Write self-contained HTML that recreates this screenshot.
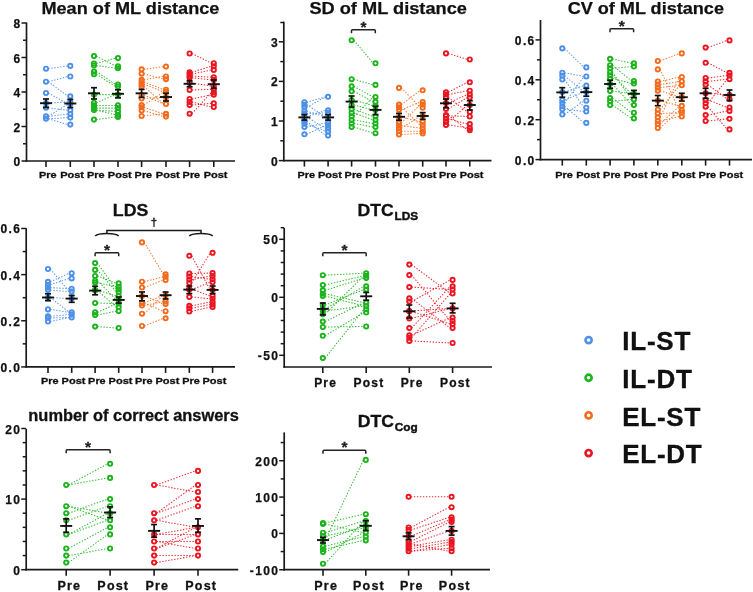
<!DOCTYPE html>
<html><head><meta charset="utf-8"><style>html,body{margin:0;padding:0;background:#fff;width:753px;height:592px;overflow:hidden;position:relative}</style></head><body>
<svg width="753" height="592" viewBox="0 0 753 592" style="filter:blur(0.3px);position:absolute;left:0;top:0;font-family:'Liberation Sans', sans-serif">
<rect width="753" height="592" fill="#fff"/>
<text x="130.45" y="13.60" font-size="17.2" font-weight="bold" text-anchor="middle" fill="#111" stroke="#111" stroke-width="0.25" textLength="178.00" lengthAdjust="spacingAndGlyphs" >Mean of ML distance</text>
<line x1="26.50" y1="22.50" x2="26.50" y2="161.80" stroke="#1a1a1a" stroke-width="1.7" />
<line x1="25.70" y1="161.00" x2="235.00" y2="161.00" stroke="#1a1a1a" stroke-width="1.7" />
<line x1="21.50" y1="23.00" x2="26.50" y2="23.00" stroke="#1a1a1a" stroke-width="1.5" />
<text x="20.30" y="28.00" font-size="12" font-weight="bold" text-anchor="end" fill="#111" stroke="#111" stroke-width="0.25" textLength="6.67" lengthAdjust="spacing" >8</text>
<line x1="21.50" y1="57.50" x2="26.50" y2="57.50" stroke="#1a1a1a" stroke-width="1.5" />
<text x="20.30" y="62.50" font-size="12" font-weight="bold" text-anchor="end" fill="#111" stroke="#111" stroke-width="0.25" textLength="6.67" lengthAdjust="spacing" >6</text>
<line x1="21.50" y1="92.00" x2="26.50" y2="92.00" stroke="#1a1a1a" stroke-width="1.5" />
<text x="20.30" y="97.00" font-size="12" font-weight="bold" text-anchor="end" fill="#111" stroke="#111" stroke-width="0.25" textLength="6.67" lengthAdjust="spacing" >4</text>
<line x1="21.50" y1="126.50" x2="26.50" y2="126.50" stroke="#1a1a1a" stroke-width="1.5" />
<text x="20.30" y="131.50" font-size="12" font-weight="bold" text-anchor="end" fill="#111" stroke="#111" stroke-width="0.25" textLength="6.67" lengthAdjust="spacing" >2</text>
<line x1="21.50" y1="161.00" x2="26.50" y2="161.00" stroke="#1a1a1a" stroke-width="1.5" />
<text x="20.30" y="166.00" font-size="12" font-weight="bold" text-anchor="end" fill="#111" stroke="#111" stroke-width="0.25" textLength="6.67" lengthAdjust="spacing" >0</text>
<line x1="23.00" y1="40.25" x2="26.50" y2="40.25" stroke="#1a1a1a" stroke-width="1.5" />
<line x1="23.00" y1="74.75" x2="26.50" y2="74.75" stroke="#1a1a1a" stroke-width="1.5" />
<line x1="23.00" y1="109.25" x2="26.50" y2="109.25" stroke="#1a1a1a" stroke-width="1.5" />
<line x1="23.00" y1="143.75" x2="26.50" y2="143.75" stroke="#1a1a1a" stroke-width="1.5" />
<line x1="46.00" y1="161.00" x2="46.00" y2="167.00" stroke="#1a1a1a" stroke-width="1.6" />
<text x="47.80" y="177.80" font-size="9.7" font-weight="bold" text-anchor="middle" fill="#111" stroke="#111" stroke-width="0.3" textLength="17.54" lengthAdjust="spacingAndGlyphs" >Pre</text>
<line x1="70.30" y1="161.00" x2="70.30" y2="167.00" stroke="#1a1a1a" stroke-width="1.6" />
<text x="72.10" y="177.80" font-size="9.7" font-weight="bold" text-anchor="middle" fill="#111" stroke="#111" stroke-width="0.3" textLength="23.87" lengthAdjust="spacingAndGlyphs" >Post</text>
<line x1="94.00" y1="161.00" x2="94.00" y2="167.00" stroke="#1a1a1a" stroke-width="1.6" />
<text x="95.80" y="177.80" font-size="9.7" font-weight="bold" text-anchor="middle" fill="#111" stroke="#111" stroke-width="0.3" textLength="17.54" lengthAdjust="spacingAndGlyphs" >Pre</text>
<line x1="118.00" y1="161.00" x2="118.00" y2="167.00" stroke="#1a1a1a" stroke-width="1.6" />
<text x="119.80" y="177.80" font-size="9.7" font-weight="bold" text-anchor="middle" fill="#111" stroke="#111" stroke-width="0.3" textLength="23.87" lengthAdjust="spacingAndGlyphs" >Post</text>
<line x1="141.60" y1="161.00" x2="141.60" y2="167.00" stroke="#1a1a1a" stroke-width="1.6" />
<text x="143.40" y="177.80" font-size="9.7" font-weight="bold" text-anchor="middle" fill="#111" stroke="#111" stroke-width="0.3" textLength="17.54" lengthAdjust="spacingAndGlyphs" >Pre</text>
<line x1="166.00" y1="161.00" x2="166.00" y2="167.00" stroke="#1a1a1a" stroke-width="1.6" />
<text x="167.80" y="177.80" font-size="9.7" font-weight="bold" text-anchor="middle" fill="#111" stroke="#111" stroke-width="0.3" textLength="23.87" lengthAdjust="spacingAndGlyphs" >Post</text>
<line x1="189.60" y1="161.00" x2="189.60" y2="167.00" stroke="#1a1a1a" stroke-width="1.6" />
<text x="191.40" y="177.80" font-size="9.7" font-weight="bold" text-anchor="middle" fill="#111" stroke="#111" stroke-width="0.3" textLength="17.54" lengthAdjust="spacingAndGlyphs" >Pre</text>
<line x1="213.80" y1="161.00" x2="213.80" y2="167.00" stroke="#1a1a1a" stroke-width="1.6" />
<text x="215.60" y="177.80" font-size="9.7" font-weight="bold" text-anchor="middle" fill="#111" stroke="#111" stroke-width="0.3" textLength="23.87" lengthAdjust="spacingAndGlyphs" >Post</text>
<line x1="48.30" y1="68.70" x2="68.00" y2="65.90" stroke="#4d90e8" stroke-width="1.05" stroke-dasharray="1.4 1.6" opacity="0.9"/>
<line x1="48.30" y1="81.70" x2="68.00" y2="76.50" stroke="#4d90e8" stroke-width="1.05" stroke-dasharray="1.4 1.6" opacity="0.9"/>
<line x1="48.30" y1="81.70" x2="68.00" y2="96.30" stroke="#4d90e8" stroke-width="1.05" stroke-dasharray="1.4 1.6" opacity="0.9"/>
<line x1="48.30" y1="93.00" x2="68.00" y2="104.00" stroke="#4d90e8" stroke-width="1.05" stroke-dasharray="1.4 1.6" opacity="0.9"/>
<line x1="48.30" y1="103.00" x2="68.00" y2="102.00" stroke="#4d90e8" stroke-width="1.05" stroke-dasharray="1.4 1.6" opacity="0.9"/>
<line x1="48.30" y1="107.80" x2="68.00" y2="110.30" stroke="#4d90e8" stroke-width="1.05" stroke-dasharray="1.4 1.6" opacity="0.9"/>
<line x1="48.30" y1="116.40" x2="68.00" y2="104.00" stroke="#4d90e8" stroke-width="1.05" stroke-dasharray="1.4 1.6" opacity="0.9"/>
<line x1="48.30" y1="116.40" x2="68.00" y2="114.00" stroke="#4d90e8" stroke-width="1.05" stroke-dasharray="1.4 1.6" opacity="0.9"/>
<line x1="48.30" y1="118.80" x2="68.00" y2="117.60" stroke="#4d90e8" stroke-width="1.05" stroke-dasharray="1.4 1.6" opacity="0.9"/>
<line x1="48.30" y1="118.80" x2="68.00" y2="124.60" stroke="#4d90e8" stroke-width="1.05" stroke-dasharray="1.4 1.6" opacity="0.9"/>
<circle cx="46.00" cy="68.70" r="2.1" fill="none" stroke="#4d90e8" stroke-width="1.9"/>
<circle cx="46.00" cy="81.70" r="2.1" fill="none" stroke="#4d90e8" stroke-width="1.9"/>
<circle cx="46.00" cy="93.00" r="2.1" fill="none" stroke="#4d90e8" stroke-width="1.9"/>
<circle cx="46.00" cy="103.00" r="2.1" fill="none" stroke="#4d90e8" stroke-width="1.9"/>
<circle cx="46.00" cy="107.80" r="2.1" fill="none" stroke="#4d90e8" stroke-width="1.9"/>
<circle cx="46.00" cy="116.40" r="2.1" fill="none" stroke="#4d90e8" stroke-width="1.9"/>
<circle cx="46.00" cy="118.80" r="2.1" fill="none" stroke="#4d90e8" stroke-width="1.9"/>
<circle cx="70.30" cy="65.90" r="2.1" fill="none" stroke="#4d90e8" stroke-width="1.9"/>
<circle cx="70.30" cy="76.50" r="2.1" fill="none" stroke="#4d90e8" stroke-width="1.9"/>
<circle cx="70.30" cy="96.30" r="2.1" fill="none" stroke="#4d90e8" stroke-width="1.9"/>
<circle cx="70.30" cy="102.00" r="2.1" fill="none" stroke="#4d90e8" stroke-width="1.9"/>
<circle cx="70.30" cy="104.00" r="2.1" fill="none" stroke="#4d90e8" stroke-width="1.9"/>
<circle cx="70.30" cy="110.30" r="2.1" fill="none" stroke="#4d90e8" stroke-width="1.9"/>
<circle cx="70.30" cy="114.00" r="2.1" fill="none" stroke="#4d90e8" stroke-width="1.9"/>
<circle cx="70.30" cy="117.60" r="2.1" fill="none" stroke="#4d90e8" stroke-width="1.9"/>
<circle cx="70.30" cy="124.60" r="2.1" fill="none" stroke="#4d90e8" stroke-width="1.9"/>
<line x1="46.00" y1="99.00" x2="46.00" y2="107.50" stroke="#111" stroke-width="1.7" />
<line x1="43.00" y1="99.00" x2="49.00" y2="99.00" stroke="#111" stroke-width="1.7" />
<line x1="43.00" y1="107.50" x2="49.00" y2="107.50" stroke="#111" stroke-width="1.7" />
<line x1="40.00" y1="103.20" x2="52.00" y2="103.20" stroke="#111" stroke-width="1.9" />
<line x1="70.30" y1="99.40" x2="70.30" y2="107.50" stroke="#111" stroke-width="1.7" />
<line x1="67.30" y1="99.40" x2="73.30" y2="99.40" stroke="#111" stroke-width="1.7" />
<line x1="67.30" y1="107.50" x2="73.30" y2="107.50" stroke="#111" stroke-width="1.7" />
<line x1="64.30" y1="103.50" x2="76.30" y2="103.50" stroke="#111" stroke-width="1.9" />
<line x1="96.30" y1="56.10" x2="115.70" y2="66.20" stroke="#1cb41c" stroke-width="1.05" stroke-dasharray="1.4 1.6" opacity="0.9"/>
<line x1="96.30" y1="63.50" x2="115.70" y2="58.10" stroke="#1cb41c" stroke-width="1.05" stroke-dasharray="1.4 1.6" opacity="0.9"/>
<line x1="96.30" y1="65.50" x2="115.70" y2="68.20" stroke="#1cb41c" stroke-width="1.05" stroke-dasharray="1.4 1.6" opacity="0.9"/>
<line x1="96.30" y1="71.60" x2="115.70" y2="84.50" stroke="#1cb41c" stroke-width="1.05" stroke-dasharray="1.4 1.6" opacity="0.9"/>
<line x1="96.30" y1="74.30" x2="115.70" y2="86.50" stroke="#1cb41c" stroke-width="1.05" stroke-dasharray="1.4 1.6" opacity="0.9"/>
<line x1="96.30" y1="94.60" x2="115.70" y2="94.60" stroke="#1cb41c" stroke-width="1.05" stroke-dasharray="1.4 1.6" opacity="0.9"/>
<line x1="96.30" y1="102.70" x2="115.70" y2="94.60" stroke="#1cb41c" stroke-width="1.05" stroke-dasharray="1.4 1.6" opacity="0.9"/>
<line x1="96.30" y1="105.40" x2="115.70" y2="105.40" stroke="#1cb41c" stroke-width="1.05" stroke-dasharray="1.4 1.6" opacity="0.9"/>
<line x1="96.30" y1="108.10" x2="115.70" y2="108.10" stroke="#1cb41c" stroke-width="1.05" stroke-dasharray="1.4 1.6" opacity="0.9"/>
<line x1="96.30" y1="110.10" x2="115.70" y2="111.50" stroke="#1cb41c" stroke-width="1.05" stroke-dasharray="1.4 1.6" opacity="0.9"/>
<line x1="96.30" y1="110.10" x2="115.70" y2="114.90" stroke="#1cb41c" stroke-width="1.05" stroke-dasharray="1.4 1.6" opacity="0.9"/>
<line x1="96.30" y1="119.60" x2="115.70" y2="116.90" stroke="#1cb41c" stroke-width="1.05" stroke-dasharray="1.4 1.6" opacity="0.9"/>
<circle cx="94.00" cy="56.10" r="2.1" fill="none" stroke="#1cb41c" stroke-width="1.9"/>
<circle cx="94.00" cy="63.50" r="2.1" fill="none" stroke="#1cb41c" stroke-width="1.9"/>
<circle cx="94.00" cy="65.50" r="2.1" fill="none" stroke="#1cb41c" stroke-width="1.9"/>
<circle cx="94.00" cy="71.60" r="2.1" fill="none" stroke="#1cb41c" stroke-width="1.9"/>
<circle cx="94.00" cy="74.30" r="2.1" fill="none" stroke="#1cb41c" stroke-width="1.9"/>
<circle cx="94.00" cy="94.60" r="2.1" fill="none" stroke="#1cb41c" stroke-width="1.9"/>
<circle cx="94.00" cy="102.70" r="2.1" fill="none" stroke="#1cb41c" stroke-width="1.9"/>
<circle cx="94.00" cy="105.40" r="2.1" fill="none" stroke="#1cb41c" stroke-width="1.9"/>
<circle cx="94.00" cy="108.10" r="2.1" fill="none" stroke="#1cb41c" stroke-width="1.9"/>
<circle cx="94.00" cy="110.10" r="2.1" fill="none" stroke="#1cb41c" stroke-width="1.9"/>
<circle cx="94.00" cy="119.60" r="2.1" fill="none" stroke="#1cb41c" stroke-width="1.9"/>
<circle cx="118.00" cy="58.10" r="2.1" fill="none" stroke="#1cb41c" stroke-width="1.9"/>
<circle cx="118.00" cy="66.20" r="2.1" fill="none" stroke="#1cb41c" stroke-width="1.9"/>
<circle cx="118.00" cy="68.20" r="2.1" fill="none" stroke="#1cb41c" stroke-width="1.9"/>
<circle cx="118.00" cy="84.50" r="2.1" fill="none" stroke="#1cb41c" stroke-width="1.9"/>
<circle cx="118.00" cy="86.50" r="2.1" fill="none" stroke="#1cb41c" stroke-width="1.9"/>
<circle cx="118.00" cy="94.60" r="2.1" fill="none" stroke="#1cb41c" stroke-width="1.9"/>
<circle cx="118.00" cy="105.40" r="2.1" fill="none" stroke="#1cb41c" stroke-width="1.9"/>
<circle cx="118.00" cy="108.10" r="2.1" fill="none" stroke="#1cb41c" stroke-width="1.9"/>
<circle cx="118.00" cy="111.50" r="2.1" fill="none" stroke="#1cb41c" stroke-width="1.9"/>
<circle cx="118.00" cy="114.90" r="2.1" fill="none" stroke="#1cb41c" stroke-width="1.9"/>
<circle cx="118.00" cy="116.90" r="2.1" fill="none" stroke="#1cb41c" stroke-width="1.9"/>
<line x1="94.00" y1="87.70" x2="94.00" y2="99.00" stroke="#111" stroke-width="1.7" />
<line x1="91.00" y1="87.70" x2="97.00" y2="87.70" stroke="#111" stroke-width="1.7" />
<line x1="91.00" y1="99.00" x2="97.00" y2="99.00" stroke="#111" stroke-width="1.7" />
<line x1="88.00" y1="93.30" x2="100.00" y2="93.30" stroke="#111" stroke-width="1.9" />
<line x1="118.00" y1="89.80" x2="118.00" y2="97.90" stroke="#111" stroke-width="1.7" />
<line x1="115.00" y1="89.80" x2="121.00" y2="89.80" stroke="#111" stroke-width="1.7" />
<line x1="115.00" y1="97.90" x2="121.00" y2="97.90" stroke="#111" stroke-width="1.7" />
<line x1="112.00" y1="93.80" x2="124.00" y2="93.80" stroke="#111" stroke-width="1.9" />
<line x1="143.90" y1="69.30" x2="163.70" y2="66.60" stroke="#f26b1d" stroke-width="1.05" stroke-dasharray="1.4 1.6" opacity="0.9"/>
<line x1="143.90" y1="73.70" x2="163.70" y2="79.20" stroke="#f26b1d" stroke-width="1.05" stroke-dasharray="1.4 1.6" opacity="0.9"/>
<line x1="143.90" y1="79.80" x2="163.70" y2="76.50" stroke="#f26b1d" stroke-width="1.05" stroke-dasharray="1.4 1.6" opacity="0.9"/>
<line x1="143.90" y1="82.00" x2="163.70" y2="89.70" stroke="#f26b1d" stroke-width="1.05" stroke-dasharray="1.4 1.6" opacity="0.9"/>
<line x1="143.90" y1="84.20" x2="163.70" y2="91.90" stroke="#f26b1d" stroke-width="1.05" stroke-dasharray="1.4 1.6" opacity="0.9"/>
<line x1="143.90" y1="86.40" x2="163.70" y2="104.00" stroke="#f26b1d" stroke-width="1.05" stroke-dasharray="1.4 1.6" opacity="0.9"/>
<line x1="143.90" y1="98.50" x2="163.70" y2="97.40" stroke="#f26b1d" stroke-width="1.05" stroke-dasharray="1.4 1.6" opacity="0.9"/>
<line x1="143.90" y1="105.00" x2="163.70" y2="91.90" stroke="#f26b1d" stroke-width="1.05" stroke-dasharray="1.4 1.6" opacity="0.9"/>
<line x1="143.90" y1="107.30" x2="163.70" y2="113.80" stroke="#f26b1d" stroke-width="1.05" stroke-dasharray="1.4 1.6" opacity="0.9"/>
<line x1="143.90" y1="110.50" x2="163.70" y2="116.60" stroke="#f26b1d" stroke-width="1.05" stroke-dasharray="1.4 1.6" opacity="0.9"/>
<line x1="143.90" y1="116.00" x2="163.70" y2="113.80" stroke="#f26b1d" stroke-width="1.05" stroke-dasharray="1.4 1.6" opacity="0.9"/>
<line x1="143.90" y1="95.00" x2="163.70" y2="104.00" stroke="#f26b1d" stroke-width="1.05" stroke-dasharray="1.4 1.6" opacity="0.9"/>
<circle cx="141.60" cy="69.30" r="2.1" fill="none" stroke="#f26b1d" stroke-width="1.9"/>
<circle cx="141.60" cy="73.70" r="2.1" fill="none" stroke="#f26b1d" stroke-width="1.9"/>
<circle cx="141.60" cy="79.80" r="2.1" fill="none" stroke="#f26b1d" stroke-width="1.9"/>
<circle cx="141.60" cy="82.00" r="2.1" fill="none" stroke="#f26b1d" stroke-width="1.9"/>
<circle cx="141.60" cy="84.20" r="2.1" fill="none" stroke="#f26b1d" stroke-width="1.9"/>
<circle cx="141.60" cy="86.40" r="2.1" fill="none" stroke="#f26b1d" stroke-width="1.9"/>
<circle cx="141.60" cy="95.00" r="2.1" fill="none" stroke="#f26b1d" stroke-width="1.9"/>
<circle cx="141.60" cy="98.50" r="2.1" fill="none" stroke="#f26b1d" stroke-width="1.9"/>
<circle cx="141.60" cy="105.00" r="2.1" fill="none" stroke="#f26b1d" stroke-width="1.9"/>
<circle cx="141.60" cy="107.30" r="2.1" fill="none" stroke="#f26b1d" stroke-width="1.9"/>
<circle cx="141.60" cy="110.50" r="2.1" fill="none" stroke="#f26b1d" stroke-width="1.9"/>
<circle cx="141.60" cy="116.00" r="2.1" fill="none" stroke="#f26b1d" stroke-width="1.9"/>
<circle cx="166.00" cy="66.60" r="2.1" fill="none" stroke="#f26b1d" stroke-width="1.9"/>
<circle cx="166.00" cy="76.50" r="2.1" fill="none" stroke="#f26b1d" stroke-width="1.9"/>
<circle cx="166.00" cy="79.20" r="2.1" fill="none" stroke="#f26b1d" stroke-width="1.9"/>
<circle cx="166.00" cy="89.70" r="2.1" fill="none" stroke="#f26b1d" stroke-width="1.9"/>
<circle cx="166.00" cy="91.90" r="2.1" fill="none" stroke="#f26b1d" stroke-width="1.9"/>
<circle cx="166.00" cy="97.40" r="2.1" fill="none" stroke="#f26b1d" stroke-width="1.9"/>
<circle cx="166.00" cy="104.00" r="2.1" fill="none" stroke="#f26b1d" stroke-width="1.9"/>
<circle cx="166.00" cy="113.80" r="2.1" fill="none" stroke="#f26b1d" stroke-width="1.9"/>
<circle cx="166.00" cy="116.60" r="2.1" fill="none" stroke="#f26b1d" stroke-width="1.9"/>
<line x1="141.60" y1="89.40" x2="141.60" y2="97.40" stroke="#111" stroke-width="1.7" />
<line x1="138.60" y1="89.40" x2="144.60" y2="89.40" stroke="#111" stroke-width="1.7" />
<line x1="138.60" y1="97.40" x2="144.60" y2="97.40" stroke="#111" stroke-width="1.7" />
<line x1="135.60" y1="93.30" x2="147.60" y2="93.30" stroke="#111" stroke-width="1.9" />
<line x1="166.00" y1="93.30" x2="166.00" y2="101.00" stroke="#111" stroke-width="1.7" />
<line x1="163.00" y1="93.30" x2="169.00" y2="93.30" stroke="#111" stroke-width="1.7" />
<line x1="163.00" y1="101.00" x2="169.00" y2="101.00" stroke="#111" stroke-width="1.7" />
<line x1="160.00" y1="97.00" x2="172.00" y2="97.00" stroke="#111" stroke-width="1.9" />
<line x1="191.90" y1="53.50" x2="211.50" y2="63.20" stroke="#ea1520" stroke-width="1.05" stroke-dasharray="1.4 1.6" opacity="0.9"/>
<line x1="191.90" y1="72.30" x2="211.50" y2="66.20" stroke="#ea1520" stroke-width="1.05" stroke-dasharray="1.4 1.6" opacity="0.9"/>
<line x1="191.90" y1="74.10" x2="211.50" y2="69.90" stroke="#ea1520" stroke-width="1.05" stroke-dasharray="1.4 1.6" opacity="0.9"/>
<line x1="191.90" y1="76.00" x2="211.50" y2="77.20" stroke="#ea1520" stroke-width="1.05" stroke-dasharray="1.4 1.6" opacity="0.9"/>
<line x1="191.90" y1="77.80" x2="211.50" y2="79.90" stroke="#ea1520" stroke-width="1.05" stroke-dasharray="1.4 1.6" opacity="0.9"/>
<line x1="191.90" y1="83.00" x2="211.50" y2="86.00" stroke="#ea1520" stroke-width="1.05" stroke-dasharray="1.4 1.6" opacity="0.9"/>
<line x1="191.90" y1="90.00" x2="211.50" y2="89.30" stroke="#ea1520" stroke-width="1.05" stroke-dasharray="1.4 1.6" opacity="0.9"/>
<line x1="191.90" y1="99.00" x2="211.50" y2="94.80" stroke="#ea1520" stroke-width="1.05" stroke-dasharray="1.4 1.6" opacity="0.9"/>
<line x1="191.90" y1="102.00" x2="211.50" y2="107.00" stroke="#ea1520" stroke-width="1.05" stroke-dasharray="1.4 1.6" opacity="0.9"/>
<line x1="191.90" y1="105.10" x2="211.50" y2="103.30" stroke="#ea1520" stroke-width="1.05" stroke-dasharray="1.4 1.6" opacity="0.9"/>
<line x1="191.90" y1="113.70" x2="211.50" y2="92.40" stroke="#ea1520" stroke-width="1.05" stroke-dasharray="1.4 1.6" opacity="0.9"/>
<circle cx="189.60" cy="53.50" r="2.1" fill="none" stroke="#ea1520" stroke-width="1.9"/>
<circle cx="189.60" cy="72.30" r="2.1" fill="none" stroke="#ea1520" stroke-width="1.9"/>
<circle cx="189.60" cy="74.10" r="2.1" fill="none" stroke="#ea1520" stroke-width="1.9"/>
<circle cx="189.60" cy="76.00" r="2.1" fill="none" stroke="#ea1520" stroke-width="1.9"/>
<circle cx="189.60" cy="77.80" r="2.1" fill="none" stroke="#ea1520" stroke-width="1.9"/>
<circle cx="189.60" cy="83.00" r="2.1" fill="none" stroke="#ea1520" stroke-width="1.9"/>
<circle cx="189.60" cy="90.00" r="2.1" fill="none" stroke="#ea1520" stroke-width="1.9"/>
<circle cx="189.60" cy="99.00" r="2.1" fill="none" stroke="#ea1520" stroke-width="1.9"/>
<circle cx="189.60" cy="102.00" r="2.1" fill="none" stroke="#ea1520" stroke-width="1.9"/>
<circle cx="189.60" cy="105.10" r="2.1" fill="none" stroke="#ea1520" stroke-width="1.9"/>
<circle cx="189.60" cy="113.70" r="2.1" fill="none" stroke="#ea1520" stroke-width="1.9"/>
<circle cx="213.80" cy="63.20" r="2.1" fill="none" stroke="#ea1520" stroke-width="1.9"/>
<circle cx="213.80" cy="66.20" r="2.1" fill="none" stroke="#ea1520" stroke-width="1.9"/>
<circle cx="213.80" cy="69.90" r="2.1" fill="none" stroke="#ea1520" stroke-width="1.9"/>
<circle cx="213.80" cy="77.20" r="2.1" fill="none" stroke="#ea1520" stroke-width="1.9"/>
<circle cx="213.80" cy="79.90" r="2.1" fill="none" stroke="#ea1520" stroke-width="1.9"/>
<circle cx="213.80" cy="86.00" r="2.1" fill="none" stroke="#ea1520" stroke-width="1.9"/>
<circle cx="213.80" cy="89.30" r="2.1" fill="none" stroke="#ea1520" stroke-width="1.9"/>
<circle cx="213.80" cy="92.40" r="2.1" fill="none" stroke="#ea1520" stroke-width="1.9"/>
<circle cx="213.80" cy="94.80" r="2.1" fill="none" stroke="#ea1520" stroke-width="1.9"/>
<circle cx="213.80" cy="103.30" r="2.1" fill="none" stroke="#ea1520" stroke-width="1.9"/>
<circle cx="213.80" cy="107.00" r="2.1" fill="none" stroke="#ea1520" stroke-width="1.9"/>
<line x1="189.60" y1="80.70" x2="189.60" y2="86.80" stroke="#111" stroke-width="1.7" />
<line x1="186.60" y1="80.70" x2="192.60" y2="80.70" stroke="#111" stroke-width="1.7" />
<line x1="186.60" y1="86.80" x2="192.60" y2="86.80" stroke="#111" stroke-width="1.7" />
<line x1="183.60" y1="83.80" x2="195.60" y2="83.80" stroke="#111" stroke-width="1.9" />
<line x1="213.80" y1="80.00" x2="213.80" y2="88.30" stroke="#111" stroke-width="1.7" />
<line x1="210.80" y1="80.00" x2="216.80" y2="80.00" stroke="#111" stroke-width="1.7" />
<line x1="210.80" y1="88.30" x2="216.80" y2="88.30" stroke="#111" stroke-width="1.7" />
<line x1="207.80" y1="84.20" x2="219.80" y2="84.20" stroke="#111" stroke-width="1.9" />
<text x="388.15" y="13.60" font-size="17.2" font-weight="bold" text-anchor="middle" fill="#111" stroke="#111" stroke-width="0.25" textLength="157.50" lengthAdjust="spacingAndGlyphs" >SD of ML distance</text>
<line x1="283.80" y1="21.60" x2="283.80" y2="161.40" stroke="#1a1a1a" stroke-width="1.7" />
<line x1="283.00" y1="160.60" x2="491.50" y2="160.60" stroke="#1a1a1a" stroke-width="1.7" />
<line x1="278.80" y1="41.80" x2="283.80" y2="41.80" stroke="#1a1a1a" stroke-width="1.5" />
<text x="277.60" y="46.80" font-size="12" font-weight="bold" text-anchor="end" fill="#111" stroke="#111" stroke-width="0.25" textLength="6.67" lengthAdjust="spacing" >3</text>
<line x1="278.80" y1="81.40" x2="283.80" y2="81.40" stroke="#1a1a1a" stroke-width="1.5" />
<text x="277.60" y="86.40" font-size="12" font-weight="bold" text-anchor="end" fill="#111" stroke="#111" stroke-width="0.25" textLength="6.67" lengthAdjust="spacing" >2</text>
<line x1="278.80" y1="121.00" x2="283.80" y2="121.00" stroke="#1a1a1a" stroke-width="1.5" />
<text x="277.60" y="126.00" font-size="12" font-weight="bold" text-anchor="end" fill="#111" stroke="#111" stroke-width="0.25" textLength="6.67" lengthAdjust="spacing" >1</text>
<line x1="278.80" y1="160.60" x2="283.80" y2="160.60" stroke="#1a1a1a" stroke-width="1.5" />
<text x="277.60" y="165.60" font-size="12" font-weight="bold" text-anchor="end" fill="#111" stroke="#111" stroke-width="0.25" textLength="6.67" lengthAdjust="spacing" >0</text>
<line x1="280.30" y1="22.50" x2="283.80" y2="22.50" stroke="#1a1a1a" stroke-width="1.5" />
<line x1="280.30" y1="61.60" x2="283.80" y2="61.60" stroke="#1a1a1a" stroke-width="1.5" />
<line x1="280.30" y1="101.20" x2="283.80" y2="101.20" stroke="#1a1a1a" stroke-width="1.5" />
<line x1="280.30" y1="140.80" x2="283.80" y2="140.80" stroke="#1a1a1a" stroke-width="1.5" />
<line x1="304.40" y1="160.60" x2="304.40" y2="166.60" stroke="#1a1a1a" stroke-width="1.6" />
<text x="306.20" y="177.80" font-size="9.7" font-weight="bold" text-anchor="middle" fill="#111" stroke="#111" stroke-width="0.3" textLength="17.54" lengthAdjust="spacingAndGlyphs" >Pre</text>
<line x1="328.10" y1="160.60" x2="328.10" y2="166.60" stroke="#1a1a1a" stroke-width="1.6" />
<text x="329.90" y="177.80" font-size="9.7" font-weight="bold" text-anchor="middle" fill="#111" stroke="#111" stroke-width="0.3" textLength="23.87" lengthAdjust="spacingAndGlyphs" >Post</text>
<line x1="351.60" y1="160.60" x2="351.60" y2="166.60" stroke="#1a1a1a" stroke-width="1.6" />
<text x="353.40" y="177.80" font-size="9.7" font-weight="bold" text-anchor="middle" fill="#111" stroke="#111" stroke-width="0.3" textLength="17.54" lengthAdjust="spacingAndGlyphs" >Pre</text>
<line x1="375.50" y1="160.60" x2="375.50" y2="166.60" stroke="#1a1a1a" stroke-width="1.6" />
<text x="377.30" y="177.80" font-size="9.7" font-weight="bold" text-anchor="middle" fill="#111" stroke="#111" stroke-width="0.3" textLength="23.87" lengthAdjust="spacingAndGlyphs" >Post</text>
<line x1="399.00" y1="160.60" x2="399.00" y2="166.60" stroke="#1a1a1a" stroke-width="1.6" />
<text x="400.80" y="177.80" font-size="9.7" font-weight="bold" text-anchor="middle" fill="#111" stroke="#111" stroke-width="0.3" textLength="17.54" lengthAdjust="spacingAndGlyphs" >Pre</text>
<line x1="422.70" y1="160.60" x2="422.70" y2="166.60" stroke="#1a1a1a" stroke-width="1.6" />
<text x="424.50" y="177.80" font-size="9.7" font-weight="bold" text-anchor="middle" fill="#111" stroke="#111" stroke-width="0.3" textLength="23.87" lengthAdjust="spacingAndGlyphs" >Post</text>
<line x1="446.00" y1="160.60" x2="446.00" y2="166.60" stroke="#1a1a1a" stroke-width="1.6" />
<text x="447.80" y="177.80" font-size="9.7" font-weight="bold" text-anchor="middle" fill="#111" stroke="#111" stroke-width="0.3" textLength="17.54" lengthAdjust="spacingAndGlyphs" >Pre</text>
<line x1="469.80" y1="160.60" x2="469.80" y2="166.60" stroke="#1a1a1a" stroke-width="1.6" />
<text x="471.60" y="177.80" font-size="9.7" font-weight="bold" text-anchor="middle" fill="#111" stroke="#111" stroke-width="0.3" textLength="23.87" lengthAdjust="spacingAndGlyphs" >Post</text>
<path d="M351.50,33.30 V30.80 Q351.50,29.80 352.50,29.80 H374.30 Q375.30,29.80 375.30,30.80 V33.30" fill="none" stroke="#222" stroke-width="1.5"/>
<text x="363.40" y="32.00" font-size="15.5" font-weight="bold" text-anchor="middle" fill="#222" stroke="#222" stroke-width="0.3" >*</text>
<line x1="306.70" y1="102.20" x2="325.80" y2="96.80" stroke="#4d90e8" stroke-width="1.05" stroke-dasharray="1.4 1.6" opacity="0.9"/>
<line x1="306.70" y1="107.30" x2="325.80" y2="96.80" stroke="#4d90e8" stroke-width="1.05" stroke-dasharray="1.4 1.6" opacity="0.9"/>
<line x1="306.70" y1="104.80" x2="325.80" y2="117.00" stroke="#4d90e8" stroke-width="1.05" stroke-dasharray="1.4 1.6" opacity="0.9"/>
<line x1="306.70" y1="111.10" x2="325.80" y2="117.00" stroke="#4d90e8" stroke-width="1.05" stroke-dasharray="1.4 1.6" opacity="0.9"/>
<line x1="306.70" y1="113.60" x2="325.80" y2="112.80" stroke="#4d90e8" stroke-width="1.05" stroke-dasharray="1.4 1.6" opacity="0.9"/>
<line x1="306.70" y1="117.00" x2="325.80" y2="110.30" stroke="#4d90e8" stroke-width="1.05" stroke-dasharray="1.4 1.6" opacity="0.9"/>
<line x1="306.70" y1="121.20" x2="325.80" y2="135.60" stroke="#4d90e8" stroke-width="1.05" stroke-dasharray="1.4 1.6" opacity="0.9"/>
<line x1="306.70" y1="123.80" x2="325.80" y2="131.40" stroke="#4d90e8" stroke-width="1.05" stroke-dasharray="1.4 1.6" opacity="0.9"/>
<line x1="306.70" y1="127.10" x2="325.80" y2="122.90" stroke="#4d90e8" stroke-width="1.05" stroke-dasharray="1.4 1.6" opacity="0.9"/>
<line x1="306.70" y1="134.30" x2="325.80" y2="125.40" stroke="#4d90e8" stroke-width="1.05" stroke-dasharray="1.4 1.6" opacity="0.9"/>
<line x1="306.70" y1="117.00" x2="325.80" y2="128.40" stroke="#4d90e8" stroke-width="1.05" stroke-dasharray="1.4 1.6" opacity="0.9"/>
<circle cx="304.40" cy="102.20" r="2.1" fill="none" stroke="#4d90e8" stroke-width="1.9"/>
<circle cx="304.40" cy="104.80" r="2.1" fill="none" stroke="#4d90e8" stroke-width="1.9"/>
<circle cx="304.40" cy="107.30" r="2.1" fill="none" stroke="#4d90e8" stroke-width="1.9"/>
<circle cx="304.40" cy="111.10" r="2.1" fill="none" stroke="#4d90e8" stroke-width="1.9"/>
<circle cx="304.40" cy="113.60" r="2.1" fill="none" stroke="#4d90e8" stroke-width="1.9"/>
<circle cx="304.40" cy="117.00" r="2.1" fill="none" stroke="#4d90e8" stroke-width="1.9"/>
<circle cx="304.40" cy="121.20" r="2.1" fill="none" stroke="#4d90e8" stroke-width="1.9"/>
<circle cx="304.40" cy="123.80" r="2.1" fill="none" stroke="#4d90e8" stroke-width="1.9"/>
<circle cx="304.40" cy="127.10" r="2.1" fill="none" stroke="#4d90e8" stroke-width="1.9"/>
<circle cx="304.40" cy="134.30" r="2.1" fill="none" stroke="#4d90e8" stroke-width="1.9"/>
<circle cx="328.10" cy="96.80" r="2.1" fill="none" stroke="#4d90e8" stroke-width="1.9"/>
<circle cx="328.10" cy="110.30" r="2.1" fill="none" stroke="#4d90e8" stroke-width="1.9"/>
<circle cx="328.10" cy="112.80" r="2.1" fill="none" stroke="#4d90e8" stroke-width="1.9"/>
<circle cx="328.10" cy="117.00" r="2.1" fill="none" stroke="#4d90e8" stroke-width="1.9"/>
<circle cx="328.10" cy="122.90" r="2.1" fill="none" stroke="#4d90e8" stroke-width="1.9"/>
<circle cx="328.10" cy="125.40" r="2.1" fill="none" stroke="#4d90e8" stroke-width="1.9"/>
<circle cx="328.10" cy="128.40" r="2.1" fill="none" stroke="#4d90e8" stroke-width="1.9"/>
<circle cx="328.10" cy="131.40" r="2.1" fill="none" stroke="#4d90e8" stroke-width="1.9"/>
<circle cx="328.10" cy="135.60" r="2.1" fill="none" stroke="#4d90e8" stroke-width="1.9"/>
<line x1="304.40" y1="114.60" x2="304.40" y2="120.10" stroke="#111" stroke-width="1.7" />
<line x1="301.40" y1="114.60" x2="307.40" y2="114.60" stroke="#111" stroke-width="1.7" />
<line x1="301.40" y1="120.10" x2="307.40" y2="120.10" stroke="#111" stroke-width="1.7" />
<line x1="298.40" y1="117.40" x2="310.40" y2="117.40" stroke="#111" stroke-width="1.9" />
<line x1="328.10" y1="114.60" x2="328.10" y2="120.10" stroke="#111" stroke-width="1.7" />
<line x1="325.10" y1="114.60" x2="331.10" y2="114.60" stroke="#111" stroke-width="1.7" />
<line x1="325.10" y1="120.10" x2="331.10" y2="120.10" stroke="#111" stroke-width="1.7" />
<line x1="322.10" y1="117.40" x2="334.10" y2="117.40" stroke="#111" stroke-width="1.9" />
<line x1="353.90" y1="40.30" x2="373.20" y2="63.30" stroke="#1cb41c" stroke-width="1.05" stroke-dasharray="1.4 1.6" opacity="0.9"/>
<line x1="353.90" y1="79.20" x2="373.20" y2="84.90" stroke="#1cb41c" stroke-width="1.05" stroke-dasharray="1.4 1.6" opacity="0.9"/>
<line x1="353.90" y1="86.30" x2="373.20" y2="97.00" stroke="#1cb41c" stroke-width="1.05" stroke-dasharray="1.4 1.6" opacity="0.9"/>
<line x1="353.90" y1="91.30" x2="373.20" y2="101.90" stroke="#1cb41c" stroke-width="1.05" stroke-dasharray="1.4 1.6" opacity="0.9"/>
<line x1="353.90" y1="100.00" x2="373.20" y2="105.80" stroke="#1cb41c" stroke-width="1.05" stroke-dasharray="1.4 1.6" opacity="0.9"/>
<line x1="353.90" y1="109.30" x2="373.20" y2="116.40" stroke="#1cb41c" stroke-width="1.05" stroke-dasharray="1.4 1.6" opacity="0.9"/>
<line x1="353.90" y1="112.90" x2="373.20" y2="120.00" stroke="#1cb41c" stroke-width="1.05" stroke-dasharray="1.4 1.6" opacity="0.9"/>
<line x1="353.90" y1="116.40" x2="373.20" y2="97.00" stroke="#1cb41c" stroke-width="1.05" stroke-dasharray="1.4 1.6" opacity="0.9"/>
<line x1="353.90" y1="120.00" x2="373.20" y2="123.50" stroke="#1cb41c" stroke-width="1.05" stroke-dasharray="1.4 1.6" opacity="0.9"/>
<line x1="353.90" y1="123.50" x2="373.20" y2="127.00" stroke="#1cb41c" stroke-width="1.05" stroke-dasharray="1.4 1.6" opacity="0.9"/>
<line x1="353.90" y1="127.00" x2="373.20" y2="133.20" stroke="#1cb41c" stroke-width="1.05" stroke-dasharray="1.4 1.6" opacity="0.9"/>
<line x1="353.90" y1="105.00" x2="373.20" y2="110.00" stroke="#1cb41c" stroke-width="1.05" stroke-dasharray="1.4 1.6" opacity="0.9"/>
<circle cx="351.60" cy="40.30" r="2.1" fill="none" stroke="#1cb41c" stroke-width="1.9"/>
<circle cx="351.60" cy="79.20" r="2.1" fill="none" stroke="#1cb41c" stroke-width="1.9"/>
<circle cx="351.60" cy="86.30" r="2.1" fill="none" stroke="#1cb41c" stroke-width="1.9"/>
<circle cx="351.60" cy="91.30" r="2.1" fill="none" stroke="#1cb41c" stroke-width="1.9"/>
<circle cx="351.60" cy="100.00" r="2.1" fill="none" stroke="#1cb41c" stroke-width="1.9"/>
<circle cx="351.60" cy="105.00" r="2.1" fill="none" stroke="#1cb41c" stroke-width="1.9"/>
<circle cx="351.60" cy="109.30" r="2.1" fill="none" stroke="#1cb41c" stroke-width="1.9"/>
<circle cx="351.60" cy="112.90" r="2.1" fill="none" stroke="#1cb41c" stroke-width="1.9"/>
<circle cx="351.60" cy="116.40" r="2.1" fill="none" stroke="#1cb41c" stroke-width="1.9"/>
<circle cx="351.60" cy="120.00" r="2.1" fill="none" stroke="#1cb41c" stroke-width="1.9"/>
<circle cx="351.60" cy="123.50" r="2.1" fill="none" stroke="#1cb41c" stroke-width="1.9"/>
<circle cx="351.60" cy="127.00" r="2.1" fill="none" stroke="#1cb41c" stroke-width="1.9"/>
<circle cx="375.50" cy="63.30" r="2.1" fill="none" stroke="#1cb41c" stroke-width="1.9"/>
<circle cx="375.50" cy="84.90" r="2.1" fill="none" stroke="#1cb41c" stroke-width="1.9"/>
<circle cx="375.50" cy="97.00" r="2.1" fill="none" stroke="#1cb41c" stroke-width="1.9"/>
<circle cx="375.50" cy="101.90" r="2.1" fill="none" stroke="#1cb41c" stroke-width="1.9"/>
<circle cx="375.50" cy="105.80" r="2.1" fill="none" stroke="#1cb41c" stroke-width="1.9"/>
<circle cx="375.50" cy="110.00" r="2.1" fill="none" stroke="#1cb41c" stroke-width="1.9"/>
<circle cx="375.50" cy="116.40" r="2.1" fill="none" stroke="#1cb41c" stroke-width="1.9"/>
<circle cx="375.50" cy="120.00" r="2.1" fill="none" stroke="#1cb41c" stroke-width="1.9"/>
<circle cx="375.50" cy="123.50" r="2.1" fill="none" stroke="#1cb41c" stroke-width="1.9"/>
<circle cx="375.50" cy="127.00" r="2.1" fill="none" stroke="#1cb41c" stroke-width="1.9"/>
<circle cx="375.50" cy="133.20" r="2.1" fill="none" stroke="#1cb41c" stroke-width="1.9"/>
<line x1="351.60" y1="96.00" x2="351.60" y2="107.10" stroke="#111" stroke-width="1.7" />
<line x1="348.60" y1="96.00" x2="354.60" y2="96.00" stroke="#111" stroke-width="1.7" />
<line x1="348.60" y1="107.10" x2="354.60" y2="107.10" stroke="#111" stroke-width="1.7" />
<line x1="345.60" y1="101.60" x2="357.60" y2="101.60" stroke="#111" stroke-width="1.9" />
<line x1="375.50" y1="106.20" x2="375.50" y2="114.60" stroke="#111" stroke-width="1.7" />
<line x1="372.50" y1="106.20" x2="378.50" y2="106.20" stroke="#111" stroke-width="1.7" />
<line x1="372.50" y1="114.60" x2="378.50" y2="114.60" stroke="#111" stroke-width="1.7" />
<line x1="369.50" y1="109.90" x2="381.50" y2="109.90" stroke="#111" stroke-width="1.9" />
<line x1="401.30" y1="87.90" x2="420.40" y2="107.70" stroke="#f26b1d" stroke-width="1.05" stroke-dasharray="1.4 1.6" opacity="0.9"/>
<line x1="401.30" y1="104.60" x2="420.40" y2="90.30" stroke="#f26b1d" stroke-width="1.05" stroke-dasharray="1.4 1.6" opacity="0.9"/>
<line x1="401.30" y1="107.20" x2="420.40" y2="125.00" stroke="#f26b1d" stroke-width="1.05" stroke-dasharray="1.4 1.6" opacity="0.9"/>
<line x1="401.30" y1="109.80" x2="420.40" y2="102.00" stroke="#f26b1d" stroke-width="1.05" stroke-dasharray="1.4 1.6" opacity="0.9"/>
<line x1="401.30" y1="117.00" x2="420.40" y2="121.90" stroke="#f26b1d" stroke-width="1.05" stroke-dasharray="1.4 1.6" opacity="0.9"/>
<line x1="401.30" y1="122.90" x2="420.40" y2="104.60" stroke="#f26b1d" stroke-width="1.05" stroke-dasharray="1.4 1.6" opacity="0.9"/>
<line x1="401.30" y1="125.50" x2="420.40" y2="128.20" stroke="#f26b1d" stroke-width="1.05" stroke-dasharray="1.4 1.6" opacity="0.9"/>
<line x1="401.30" y1="128.20" x2="420.40" y2="116.00" stroke="#f26b1d" stroke-width="1.05" stroke-dasharray="1.4 1.6" opacity="0.9"/>
<line x1="401.30" y1="131.30" x2="420.40" y2="131.30" stroke="#f26b1d" stroke-width="1.05" stroke-dasharray="1.4 1.6" opacity="0.9"/>
<line x1="401.30" y1="134.50" x2="420.40" y2="133.40" stroke="#f26b1d" stroke-width="1.05" stroke-dasharray="1.4 1.6" opacity="0.9"/>
<circle cx="399.00" cy="87.90" r="2.1" fill="none" stroke="#f26b1d" stroke-width="1.9"/>
<circle cx="399.00" cy="104.60" r="2.1" fill="none" stroke="#f26b1d" stroke-width="1.9"/>
<circle cx="399.00" cy="107.20" r="2.1" fill="none" stroke="#f26b1d" stroke-width="1.9"/>
<circle cx="399.00" cy="109.80" r="2.1" fill="none" stroke="#f26b1d" stroke-width="1.9"/>
<circle cx="399.00" cy="117.00" r="2.1" fill="none" stroke="#f26b1d" stroke-width="1.9"/>
<circle cx="399.00" cy="122.90" r="2.1" fill="none" stroke="#f26b1d" stroke-width="1.9"/>
<circle cx="399.00" cy="125.50" r="2.1" fill="none" stroke="#f26b1d" stroke-width="1.9"/>
<circle cx="399.00" cy="128.20" r="2.1" fill="none" stroke="#f26b1d" stroke-width="1.9"/>
<circle cx="399.00" cy="131.30" r="2.1" fill="none" stroke="#f26b1d" stroke-width="1.9"/>
<circle cx="399.00" cy="134.50" r="2.1" fill="none" stroke="#f26b1d" stroke-width="1.9"/>
<circle cx="422.70" cy="90.30" r="2.1" fill="none" stroke="#f26b1d" stroke-width="1.9"/>
<circle cx="422.70" cy="102.00" r="2.1" fill="none" stroke="#f26b1d" stroke-width="1.9"/>
<circle cx="422.70" cy="104.60" r="2.1" fill="none" stroke="#f26b1d" stroke-width="1.9"/>
<circle cx="422.70" cy="107.70" r="2.1" fill="none" stroke="#f26b1d" stroke-width="1.9"/>
<circle cx="422.70" cy="116.00" r="2.1" fill="none" stroke="#f26b1d" stroke-width="1.9"/>
<circle cx="422.70" cy="121.90" r="2.1" fill="none" stroke="#f26b1d" stroke-width="1.9"/>
<circle cx="422.70" cy="125.00" r="2.1" fill="none" stroke="#f26b1d" stroke-width="1.9"/>
<circle cx="422.70" cy="128.20" r="2.1" fill="none" stroke="#f26b1d" stroke-width="1.9"/>
<circle cx="422.70" cy="131.30" r="2.1" fill="none" stroke="#f26b1d" stroke-width="1.9"/>
<circle cx="422.70" cy="133.40" r="2.1" fill="none" stroke="#f26b1d" stroke-width="1.9"/>
<line x1="399.00" y1="113.40" x2="399.00" y2="120.20" stroke="#111" stroke-width="1.7" />
<line x1="396.00" y1="113.40" x2="402.00" y2="113.40" stroke="#111" stroke-width="1.7" />
<line x1="396.00" y1="120.20" x2="402.00" y2="120.20" stroke="#111" stroke-width="1.7" />
<line x1="393.00" y1="116.80" x2="405.00" y2="116.80" stroke="#111" stroke-width="1.9" />
<line x1="422.70" y1="112.60" x2="422.70" y2="119.30" stroke="#111" stroke-width="1.7" />
<line x1="419.70" y1="112.60" x2="425.70" y2="112.60" stroke="#111" stroke-width="1.7" />
<line x1="419.70" y1="119.30" x2="425.70" y2="119.30" stroke="#111" stroke-width="1.7" />
<line x1="416.70" y1="116.00" x2="428.70" y2="116.00" stroke="#111" stroke-width="1.9" />
<line x1="448.30" y1="53.40" x2="467.50" y2="59.50" stroke="#ea1520" stroke-width="1.05" stroke-dasharray="1.4 1.6" opacity="0.9"/>
<line x1="448.30" y1="92.20" x2="467.50" y2="82.30" stroke="#ea1520" stroke-width="1.05" stroke-dasharray="1.4 1.6" opacity="0.9"/>
<line x1="448.30" y1="94.50" x2="467.50" y2="90.70" stroke="#ea1520" stroke-width="1.05" stroke-dasharray="1.4 1.6" opacity="0.9"/>
<line x1="448.30" y1="97.50" x2="467.50" y2="112.00" stroke="#ea1520" stroke-width="1.05" stroke-dasharray="1.4 1.6" opacity="0.9"/>
<line x1="448.30" y1="103.00" x2="467.50" y2="94.50" stroke="#ea1520" stroke-width="1.05" stroke-dasharray="1.4 1.6" opacity="0.9"/>
<line x1="448.30" y1="108.90" x2="467.50" y2="97.50" stroke="#ea1520" stroke-width="1.05" stroke-dasharray="1.4 1.6" opacity="0.9"/>
<line x1="448.30" y1="115.80" x2="467.50" y2="116.50" stroke="#ea1520" stroke-width="1.05" stroke-dasharray="1.4 1.6" opacity="0.9"/>
<line x1="448.30" y1="118.80" x2="467.50" y2="124.10" stroke="#ea1520" stroke-width="1.05" stroke-dasharray="1.4 1.6" opacity="0.9"/>
<line x1="448.30" y1="121.90" x2="467.50" y2="105.00" stroke="#ea1520" stroke-width="1.05" stroke-dasharray="1.4 1.6" opacity="0.9"/>
<line x1="448.30" y1="124.90" x2="467.50" y2="127.90" stroke="#ea1520" stroke-width="1.05" stroke-dasharray="1.4 1.6" opacity="0.9"/>
<line x1="448.30" y1="115.00" x2="467.50" y2="130.20" stroke="#ea1520" stroke-width="1.05" stroke-dasharray="1.4 1.6" opacity="0.9"/>
<circle cx="446.00" cy="53.40" r="2.1" fill="none" stroke="#ea1520" stroke-width="1.9"/>
<circle cx="446.00" cy="92.20" r="2.1" fill="none" stroke="#ea1520" stroke-width="1.9"/>
<circle cx="446.00" cy="94.50" r="2.1" fill="none" stroke="#ea1520" stroke-width="1.9"/>
<circle cx="446.00" cy="97.50" r="2.1" fill="none" stroke="#ea1520" stroke-width="1.9"/>
<circle cx="446.00" cy="103.00" r="2.1" fill="none" stroke="#ea1520" stroke-width="1.9"/>
<circle cx="446.00" cy="108.90" r="2.1" fill="none" stroke="#ea1520" stroke-width="1.9"/>
<circle cx="446.00" cy="115.00" r="2.1" fill="none" stroke="#ea1520" stroke-width="1.9"/>
<circle cx="446.00" cy="115.80" r="2.1" fill="none" stroke="#ea1520" stroke-width="1.9"/>
<circle cx="446.00" cy="118.80" r="2.1" fill="none" stroke="#ea1520" stroke-width="1.9"/>
<circle cx="446.00" cy="121.90" r="2.1" fill="none" stroke="#ea1520" stroke-width="1.9"/>
<circle cx="446.00" cy="124.90" r="2.1" fill="none" stroke="#ea1520" stroke-width="1.9"/>
<circle cx="469.80" cy="59.50" r="2.1" fill="none" stroke="#ea1520" stroke-width="1.9"/>
<circle cx="469.80" cy="82.30" r="2.1" fill="none" stroke="#ea1520" stroke-width="1.9"/>
<circle cx="469.80" cy="90.70" r="2.1" fill="none" stroke="#ea1520" stroke-width="1.9"/>
<circle cx="469.80" cy="94.50" r="2.1" fill="none" stroke="#ea1520" stroke-width="1.9"/>
<circle cx="469.80" cy="97.50" r="2.1" fill="none" stroke="#ea1520" stroke-width="1.9"/>
<circle cx="469.80" cy="105.00" r="2.1" fill="none" stroke="#ea1520" stroke-width="1.9"/>
<circle cx="469.80" cy="112.00" r="2.1" fill="none" stroke="#ea1520" stroke-width="1.9"/>
<circle cx="469.80" cy="116.50" r="2.1" fill="none" stroke="#ea1520" stroke-width="1.9"/>
<circle cx="469.80" cy="124.10" r="2.1" fill="none" stroke="#ea1520" stroke-width="1.9"/>
<circle cx="469.80" cy="127.90" r="2.1" fill="none" stroke="#ea1520" stroke-width="1.9"/>
<circle cx="469.80" cy="130.20" r="2.1" fill="none" stroke="#ea1520" stroke-width="1.9"/>
<line x1="446.00" y1="99.00" x2="446.00" y2="107.80" stroke="#111" stroke-width="1.7" />
<line x1="443.00" y1="99.00" x2="449.00" y2="99.00" stroke="#111" stroke-width="1.7" />
<line x1="443.00" y1="107.80" x2="449.00" y2="107.80" stroke="#111" stroke-width="1.7" />
<line x1="440.00" y1="103.30" x2="452.00" y2="103.30" stroke="#111" stroke-width="1.9" />
<line x1="469.80" y1="100.70" x2="469.80" y2="110.00" stroke="#111" stroke-width="1.7" />
<line x1="466.80" y1="100.70" x2="472.80" y2="100.70" stroke="#111" stroke-width="1.7" />
<line x1="466.80" y1="110.00" x2="472.80" y2="110.00" stroke="#111" stroke-width="1.7" />
<line x1="463.80" y1="105.00" x2="475.80" y2="105.00" stroke="#111" stroke-width="1.9" />
<text x="645.80" y="13.60" font-size="17.2" font-weight="bold" text-anchor="middle" fill="#111" stroke="#111" stroke-width="0.25" textLength="156.30" lengthAdjust="spacingAndGlyphs" >CV of ML distance</text>
<line x1="540.50" y1="20.00" x2="540.50" y2="160.40" stroke="#1a1a1a" stroke-width="1.7" />
<line x1="539.70" y1="159.60" x2="752.00" y2="159.60" stroke="#1a1a1a" stroke-width="1.7" />
<line x1="535.50" y1="39.90" x2="540.50" y2="39.90" stroke="#1a1a1a" stroke-width="1.5" />
<text x="534.30" y="44.90" font-size="12" font-weight="bold" text-anchor="end" fill="#111" stroke="#111" stroke-width="0.25" textLength="19.48" lengthAdjust="spacing" >0.6</text>
<line x1="535.50" y1="79.80" x2="540.50" y2="79.80" stroke="#1a1a1a" stroke-width="1.5" />
<text x="534.30" y="84.80" font-size="12" font-weight="bold" text-anchor="end" fill="#111" stroke="#111" stroke-width="0.25" textLength="19.48" lengthAdjust="spacing" >0.4</text>
<line x1="535.50" y1="119.70" x2="540.50" y2="119.70" stroke="#1a1a1a" stroke-width="1.5" />
<text x="534.30" y="124.70" font-size="12" font-weight="bold" text-anchor="end" fill="#111" stroke="#111" stroke-width="0.25" textLength="19.48" lengthAdjust="spacing" >0.2</text>
<line x1="535.50" y1="159.60" x2="540.50" y2="159.60" stroke="#1a1a1a" stroke-width="1.5" />
<text x="534.30" y="164.60" font-size="12" font-weight="bold" text-anchor="end" fill="#111" stroke="#111" stroke-width="0.25" textLength="19.48" lengthAdjust="spacing" >0.0</text>
<line x1="537.00" y1="59.85" x2="540.50" y2="59.85" stroke="#1a1a1a" stroke-width="1.5" />
<line x1="537.00" y1="99.75" x2="540.50" y2="99.75" stroke="#1a1a1a" stroke-width="1.5" />
<line x1="537.00" y1="139.65" x2="540.50" y2="139.65" stroke="#1a1a1a" stroke-width="1.5" />
<line x1="562.30" y1="159.60" x2="562.30" y2="165.60" stroke="#1a1a1a" stroke-width="1.6" />
<text x="564.10" y="177.80" font-size="9.7" font-weight="bold" text-anchor="middle" fill="#111" stroke="#111" stroke-width="0.3" textLength="17.54" lengthAdjust="spacingAndGlyphs" >Pre</text>
<line x1="586.30" y1="159.60" x2="586.30" y2="165.60" stroke="#1a1a1a" stroke-width="1.6" />
<text x="588.10" y="177.80" font-size="9.7" font-weight="bold" text-anchor="middle" fill="#111" stroke="#111" stroke-width="0.3" textLength="23.87" lengthAdjust="spacingAndGlyphs" >Post</text>
<line x1="610.10" y1="159.60" x2="610.10" y2="165.60" stroke="#1a1a1a" stroke-width="1.6" />
<text x="611.90" y="177.80" font-size="9.7" font-weight="bold" text-anchor="middle" fill="#111" stroke="#111" stroke-width="0.3" textLength="17.54" lengthAdjust="spacingAndGlyphs" >Pre</text>
<line x1="633.90" y1="159.60" x2="633.90" y2="165.60" stroke="#1a1a1a" stroke-width="1.6" />
<text x="635.70" y="177.80" font-size="9.7" font-weight="bold" text-anchor="middle" fill="#111" stroke="#111" stroke-width="0.3" textLength="23.87" lengthAdjust="spacingAndGlyphs" >Post</text>
<line x1="657.80" y1="159.60" x2="657.80" y2="165.60" stroke="#1a1a1a" stroke-width="1.6" />
<text x="659.60" y="177.80" font-size="9.7" font-weight="bold" text-anchor="middle" fill="#111" stroke="#111" stroke-width="0.3" textLength="17.54" lengthAdjust="spacingAndGlyphs" >Pre</text>
<line x1="681.80" y1="159.60" x2="681.80" y2="165.60" stroke="#1a1a1a" stroke-width="1.6" />
<text x="683.60" y="177.80" font-size="9.7" font-weight="bold" text-anchor="middle" fill="#111" stroke="#111" stroke-width="0.3" textLength="23.87" lengthAdjust="spacingAndGlyphs" >Post</text>
<line x1="705.60" y1="159.60" x2="705.60" y2="165.60" stroke="#1a1a1a" stroke-width="1.6" />
<text x="707.40" y="177.80" font-size="9.7" font-weight="bold" text-anchor="middle" fill="#111" stroke="#111" stroke-width="0.3" textLength="17.54" lengthAdjust="spacingAndGlyphs" >Pre</text>
<line x1="729.50" y1="159.60" x2="729.50" y2="165.60" stroke="#1a1a1a" stroke-width="1.6" />
<text x="731.30" y="177.80" font-size="9.7" font-weight="bold" text-anchor="middle" fill="#111" stroke="#111" stroke-width="0.3" textLength="23.87" lengthAdjust="spacingAndGlyphs" >Post</text>
<path d="M610.00,32.30 V29.80 Q610.00,28.80 611.00,28.80 H632.60 Q633.60,28.80 633.60,29.80 V32.30" fill="none" stroke="#222" stroke-width="1.5"/>
<text x="621.80" y="31.30" font-size="15.5" font-weight="bold" text-anchor="middle" fill="#222" stroke="#222" stroke-width="0.3" >*</text>
<line x1="564.60" y1="48.40" x2="584.00" y2="67.40" stroke="#4d90e8" stroke-width="1.05" stroke-dasharray="1.4 1.6" opacity="0.9"/>
<line x1="564.60" y1="72.70" x2="584.00" y2="76.50" stroke="#4d90e8" stroke-width="1.05" stroke-dasharray="1.4 1.6" opacity="0.9"/>
<line x1="564.60" y1="75.70" x2="584.00" y2="92.00" stroke="#4d90e8" stroke-width="1.05" stroke-dasharray="1.4 1.6" opacity="0.9"/>
<line x1="564.60" y1="79.50" x2="584.00" y2="107.70" stroke="#4d90e8" stroke-width="1.05" stroke-dasharray="1.4 1.6" opacity="0.9"/>
<line x1="564.60" y1="92.00" x2="584.00" y2="85.60" stroke="#4d90e8" stroke-width="1.05" stroke-dasharray="1.4 1.6" opacity="0.9"/>
<line x1="564.60" y1="100.10" x2="584.00" y2="92.00" stroke="#4d90e8" stroke-width="1.05" stroke-dasharray="1.4 1.6" opacity="0.9"/>
<line x1="564.60" y1="103.10" x2="584.00" y2="76.50" stroke="#4d90e8" stroke-width="1.05" stroke-dasharray="1.4 1.6" opacity="0.9"/>
<line x1="564.60" y1="106.20" x2="584.00" y2="122.90" stroke="#4d90e8" stroke-width="1.05" stroke-dasharray="1.4 1.6" opacity="0.9"/>
<line x1="564.60" y1="109.20" x2="584.00" y2="111.50" stroke="#4d90e8" stroke-width="1.05" stroke-dasharray="1.4 1.6" opacity="0.9"/>
<line x1="564.60" y1="114.50" x2="584.00" y2="100.80" stroke="#4d90e8" stroke-width="1.05" stroke-dasharray="1.4 1.6" opacity="0.9"/>
<circle cx="562.30" cy="48.40" r="2.1" fill="none" stroke="#4d90e8" stroke-width="1.9"/>
<circle cx="562.30" cy="72.70" r="2.1" fill="none" stroke="#4d90e8" stroke-width="1.9"/>
<circle cx="562.30" cy="75.70" r="2.1" fill="none" stroke="#4d90e8" stroke-width="1.9"/>
<circle cx="562.30" cy="79.50" r="2.1" fill="none" stroke="#4d90e8" stroke-width="1.9"/>
<circle cx="562.30" cy="92.00" r="2.1" fill="none" stroke="#4d90e8" stroke-width="1.9"/>
<circle cx="562.30" cy="100.10" r="2.1" fill="none" stroke="#4d90e8" stroke-width="1.9"/>
<circle cx="562.30" cy="103.10" r="2.1" fill="none" stroke="#4d90e8" stroke-width="1.9"/>
<circle cx="562.30" cy="106.20" r="2.1" fill="none" stroke="#4d90e8" stroke-width="1.9"/>
<circle cx="562.30" cy="109.20" r="2.1" fill="none" stroke="#4d90e8" stroke-width="1.9"/>
<circle cx="562.30" cy="114.50" r="2.1" fill="none" stroke="#4d90e8" stroke-width="1.9"/>
<circle cx="586.30" cy="67.40" r="2.1" fill="none" stroke="#4d90e8" stroke-width="1.9"/>
<circle cx="586.30" cy="76.50" r="2.1" fill="none" stroke="#4d90e8" stroke-width="1.9"/>
<circle cx="586.30" cy="85.60" r="2.1" fill="none" stroke="#4d90e8" stroke-width="1.9"/>
<circle cx="586.30" cy="92.00" r="2.1" fill="none" stroke="#4d90e8" stroke-width="1.9"/>
<circle cx="586.30" cy="100.80" r="2.1" fill="none" stroke="#4d90e8" stroke-width="1.9"/>
<circle cx="586.30" cy="107.70" r="2.1" fill="none" stroke="#4d90e8" stroke-width="1.9"/>
<circle cx="586.30" cy="111.50" r="2.1" fill="none" stroke="#4d90e8" stroke-width="1.9"/>
<circle cx="586.30" cy="122.90" r="2.1" fill="none" stroke="#4d90e8" stroke-width="1.9"/>
<line x1="562.30" y1="87.70" x2="562.30" y2="97.20" stroke="#111" stroke-width="1.7" />
<line x1="559.30" y1="87.70" x2="565.30" y2="87.70" stroke="#111" stroke-width="1.7" />
<line x1="559.30" y1="97.20" x2="565.30" y2="97.20" stroke="#111" stroke-width="1.7" />
<line x1="556.30" y1="92.40" x2="568.30" y2="92.40" stroke="#111" stroke-width="1.9" />
<line x1="586.30" y1="88.20" x2="586.30" y2="96.20" stroke="#111" stroke-width="1.7" />
<line x1="583.30" y1="88.20" x2="589.30" y2="88.20" stroke="#111" stroke-width="1.7" />
<line x1="583.30" y1="96.20" x2="589.30" y2="96.20" stroke="#111" stroke-width="1.7" />
<line x1="580.30" y1="92.10" x2="592.30" y2="92.10" stroke="#111" stroke-width="1.9" />
<line x1="612.40" y1="58.90" x2="631.60" y2="63.30" stroke="#1cb41c" stroke-width="1.05" stroke-dasharray="1.4 1.6" opacity="0.9"/>
<line x1="612.40" y1="65.20" x2="631.60" y2="81.00" stroke="#1cb41c" stroke-width="1.05" stroke-dasharray="1.4 1.6" opacity="0.9"/>
<line x1="612.40" y1="68.40" x2="631.60" y2="66.50" stroke="#1cb41c" stroke-width="1.05" stroke-dasharray="1.4 1.6" opacity="0.9"/>
<line x1="612.40" y1="72.20" x2="631.60" y2="99.40" stroke="#1cb41c" stroke-width="1.05" stroke-dasharray="1.4 1.6" opacity="0.9"/>
<line x1="612.40" y1="75.30" x2="631.60" y2="93.80" stroke="#1cb41c" stroke-width="1.05" stroke-dasharray="1.4 1.6" opacity="0.9"/>
<line x1="612.40" y1="78.50" x2="631.60" y2="83.50" stroke="#1cb41c" stroke-width="1.05" stroke-dasharray="1.4 1.6" opacity="0.9"/>
<line x1="612.40" y1="84.00" x2="631.60" y2="105.10" stroke="#1cb41c" stroke-width="1.05" stroke-dasharray="1.4 1.6" opacity="0.9"/>
<line x1="612.40" y1="91.10" x2="631.60" y2="93.80" stroke="#1cb41c" stroke-width="1.05" stroke-dasharray="1.4 1.6" opacity="0.9"/>
<line x1="612.40" y1="98.10" x2="631.60" y2="112.70" stroke="#1cb41c" stroke-width="1.05" stroke-dasharray="1.4 1.6" opacity="0.9"/>
<line x1="612.40" y1="101.30" x2="631.60" y2="99.40" stroke="#1cb41c" stroke-width="1.05" stroke-dasharray="1.4 1.6" opacity="0.9"/>
<line x1="612.40" y1="105.10" x2="631.60" y2="118.40" stroke="#1cb41c" stroke-width="1.05" stroke-dasharray="1.4 1.6" opacity="0.9"/>
<circle cx="610.10" cy="58.90" r="2.1" fill="none" stroke="#1cb41c" stroke-width="1.9"/>
<circle cx="610.10" cy="65.20" r="2.1" fill="none" stroke="#1cb41c" stroke-width="1.9"/>
<circle cx="610.10" cy="68.40" r="2.1" fill="none" stroke="#1cb41c" stroke-width="1.9"/>
<circle cx="610.10" cy="72.20" r="2.1" fill="none" stroke="#1cb41c" stroke-width="1.9"/>
<circle cx="610.10" cy="75.30" r="2.1" fill="none" stroke="#1cb41c" stroke-width="1.9"/>
<circle cx="610.10" cy="78.50" r="2.1" fill="none" stroke="#1cb41c" stroke-width="1.9"/>
<circle cx="610.10" cy="84.00" r="2.1" fill="none" stroke="#1cb41c" stroke-width="1.9"/>
<circle cx="610.10" cy="91.10" r="2.1" fill="none" stroke="#1cb41c" stroke-width="1.9"/>
<circle cx="610.10" cy="98.10" r="2.1" fill="none" stroke="#1cb41c" stroke-width="1.9"/>
<circle cx="610.10" cy="101.30" r="2.1" fill="none" stroke="#1cb41c" stroke-width="1.9"/>
<circle cx="610.10" cy="105.10" r="2.1" fill="none" stroke="#1cb41c" stroke-width="1.9"/>
<circle cx="633.90" cy="63.30" r="2.1" fill="none" stroke="#1cb41c" stroke-width="1.9"/>
<circle cx="633.90" cy="66.50" r="2.1" fill="none" stroke="#1cb41c" stroke-width="1.9"/>
<circle cx="633.90" cy="81.00" r="2.1" fill="none" stroke="#1cb41c" stroke-width="1.9"/>
<circle cx="633.90" cy="83.50" r="2.1" fill="none" stroke="#1cb41c" stroke-width="1.9"/>
<circle cx="633.90" cy="93.80" r="2.1" fill="none" stroke="#1cb41c" stroke-width="1.9"/>
<circle cx="633.90" cy="99.40" r="2.1" fill="none" stroke="#1cb41c" stroke-width="1.9"/>
<circle cx="633.90" cy="105.10" r="2.1" fill="none" stroke="#1cb41c" stroke-width="1.9"/>
<circle cx="633.90" cy="112.70" r="2.1" fill="none" stroke="#1cb41c" stroke-width="1.9"/>
<circle cx="633.90" cy="118.40" r="2.1" fill="none" stroke="#1cb41c" stroke-width="1.9"/>
<line x1="610.10" y1="80.30" x2="610.10" y2="88.20" stroke="#111" stroke-width="1.7" />
<line x1="607.10" y1="80.30" x2="613.10" y2="80.30" stroke="#111" stroke-width="1.7" />
<line x1="607.10" y1="88.20" x2="613.10" y2="88.20" stroke="#111" stroke-width="1.7" />
<line x1="604.10" y1="84.00" x2="616.10" y2="84.00" stroke="#111" stroke-width="1.9" />
<line x1="633.90" y1="90.40" x2="633.90" y2="97.50" stroke="#111" stroke-width="1.7" />
<line x1="630.90" y1="90.40" x2="636.90" y2="90.40" stroke="#111" stroke-width="1.7" />
<line x1="630.90" y1="97.50" x2="636.90" y2="97.50" stroke="#111" stroke-width="1.7" />
<line x1="627.90" y1="93.80" x2="639.90" y2="93.80" stroke="#111" stroke-width="1.9" />
<line x1="660.10" y1="61.00" x2="679.50" y2="53.40" stroke="#f26b1d" stroke-width="1.05" stroke-dasharray="1.4 1.6" opacity="0.9"/>
<line x1="660.10" y1="69.40" x2="679.50" y2="110.40" stroke="#f26b1d" stroke-width="1.05" stroke-dasharray="1.4 1.6" opacity="0.9"/>
<line x1="660.10" y1="81.50" x2="679.50" y2="77.00" stroke="#f26b1d" stroke-width="1.05" stroke-dasharray="1.4 1.6" opacity="0.9"/>
<line x1="660.10" y1="84.60" x2="679.50" y2="81.50" stroke="#f26b1d" stroke-width="1.05" stroke-dasharray="1.4 1.6" opacity="0.9"/>
<line x1="660.10" y1="87.60" x2="679.50" y2="85.30" stroke="#f26b1d" stroke-width="1.05" stroke-dasharray="1.4 1.6" opacity="0.9"/>
<line x1="660.10" y1="90.70" x2="679.50" y2="97.00" stroke="#f26b1d" stroke-width="1.05" stroke-dasharray="1.4 1.6" opacity="0.9"/>
<line x1="660.10" y1="100.60" x2="679.50" y2="105.90" stroke="#f26b1d" stroke-width="1.05" stroke-dasharray="1.4 1.6" opacity="0.9"/>
<line x1="660.10" y1="109.70" x2="679.50" y2="85.30" stroke="#f26b1d" stroke-width="1.05" stroke-dasharray="1.4 1.6" opacity="0.9"/>
<line x1="660.10" y1="113.50" x2="679.50" y2="112.70" stroke="#f26b1d" stroke-width="1.05" stroke-dasharray="1.4 1.6" opacity="0.9"/>
<line x1="660.10" y1="117.30" x2="679.50" y2="77.00" stroke="#f26b1d" stroke-width="1.05" stroke-dasharray="1.4 1.6" opacity="0.9"/>
<line x1="660.10" y1="121.10" x2="679.50" y2="116.50" stroke="#f26b1d" stroke-width="1.05" stroke-dasharray="1.4 1.6" opacity="0.9"/>
<line x1="660.10" y1="124.10" x2="679.50" y2="105.90" stroke="#f26b1d" stroke-width="1.05" stroke-dasharray="1.4 1.6" opacity="0.9"/>
<line x1="660.10" y1="128.00" x2="679.50" y2="110.40" stroke="#f26b1d" stroke-width="1.05" stroke-dasharray="1.4 1.6" opacity="0.9"/>
<circle cx="657.80" cy="61.00" r="2.1" fill="none" stroke="#f26b1d" stroke-width="1.9"/>
<circle cx="657.80" cy="69.40" r="2.1" fill="none" stroke="#f26b1d" stroke-width="1.9"/>
<circle cx="657.80" cy="81.50" r="2.1" fill="none" stroke="#f26b1d" stroke-width="1.9"/>
<circle cx="657.80" cy="84.60" r="2.1" fill="none" stroke="#f26b1d" stroke-width="1.9"/>
<circle cx="657.80" cy="87.60" r="2.1" fill="none" stroke="#f26b1d" stroke-width="1.9"/>
<circle cx="657.80" cy="90.70" r="2.1" fill="none" stroke="#f26b1d" stroke-width="1.9"/>
<circle cx="657.80" cy="100.60" r="2.1" fill="none" stroke="#f26b1d" stroke-width="1.9"/>
<circle cx="657.80" cy="109.70" r="2.1" fill="none" stroke="#f26b1d" stroke-width="1.9"/>
<circle cx="657.80" cy="113.50" r="2.1" fill="none" stroke="#f26b1d" stroke-width="1.9"/>
<circle cx="657.80" cy="117.30" r="2.1" fill="none" stroke="#f26b1d" stroke-width="1.9"/>
<circle cx="657.80" cy="121.10" r="2.1" fill="none" stroke="#f26b1d" stroke-width="1.9"/>
<circle cx="657.80" cy="124.10" r="2.1" fill="none" stroke="#f26b1d" stroke-width="1.9"/>
<circle cx="657.80" cy="128.00" r="2.1" fill="none" stroke="#f26b1d" stroke-width="1.9"/>
<circle cx="681.80" cy="53.40" r="2.1" fill="none" stroke="#f26b1d" stroke-width="1.9"/>
<circle cx="681.80" cy="77.00" r="2.1" fill="none" stroke="#f26b1d" stroke-width="1.9"/>
<circle cx="681.80" cy="81.50" r="2.1" fill="none" stroke="#f26b1d" stroke-width="1.9"/>
<circle cx="681.80" cy="85.30" r="2.1" fill="none" stroke="#f26b1d" stroke-width="1.9"/>
<circle cx="681.80" cy="97.00" r="2.1" fill="none" stroke="#f26b1d" stroke-width="1.9"/>
<circle cx="681.80" cy="105.90" r="2.1" fill="none" stroke="#f26b1d" stroke-width="1.9"/>
<circle cx="681.80" cy="110.40" r="2.1" fill="none" stroke="#f26b1d" stroke-width="1.9"/>
<circle cx="681.80" cy="112.70" r="2.1" fill="none" stroke="#f26b1d" stroke-width="1.9"/>
<circle cx="681.80" cy="116.50" r="2.1" fill="none" stroke="#f26b1d" stroke-width="1.9"/>
<line x1="657.80" y1="95.50" x2="657.80" y2="105.70" stroke="#111" stroke-width="1.7" />
<line x1="654.80" y1="95.50" x2="660.80" y2="95.50" stroke="#111" stroke-width="1.7" />
<line x1="654.80" y1="105.70" x2="660.80" y2="105.70" stroke="#111" stroke-width="1.7" />
<line x1="651.80" y1="100.60" x2="663.80" y2="100.60" stroke="#111" stroke-width="1.9" />
<line x1="681.80" y1="93.30" x2="681.80" y2="101.00" stroke="#111" stroke-width="1.7" />
<line x1="678.80" y1="93.30" x2="684.80" y2="93.30" stroke="#111" stroke-width="1.7" />
<line x1="678.80" y1="101.00" x2="684.80" y2="101.00" stroke="#111" stroke-width="1.7" />
<line x1="675.80" y1="97.20" x2="687.80" y2="97.20" stroke="#111" stroke-width="1.9" />
<line x1="707.90" y1="47.60" x2="727.20" y2="40.40" stroke="#ea1520" stroke-width="1.05" stroke-dasharray="1.4 1.6" opacity="0.9"/>
<line x1="707.90" y1="62.80" x2="727.20" y2="72.90" stroke="#ea1520" stroke-width="1.05" stroke-dasharray="1.4 1.6" opacity="0.9"/>
<line x1="707.90" y1="78.00" x2="727.20" y2="75.50" stroke="#ea1520" stroke-width="1.05" stroke-dasharray="1.4 1.6" opacity="0.9"/>
<line x1="707.90" y1="81.40" x2="727.20" y2="79.20" stroke="#ea1520" stroke-width="1.05" stroke-dasharray="1.4 1.6" opacity="0.9"/>
<line x1="707.90" y1="84.70" x2="727.20" y2="99.10" stroke="#ea1520" stroke-width="1.05" stroke-dasharray="1.4 1.6" opacity="0.9"/>
<line x1="707.90" y1="93.30" x2="727.20" y2="95.00" stroke="#ea1520" stroke-width="1.05" stroke-dasharray="1.4 1.6" opacity="0.9"/>
<line x1="707.90" y1="99.90" x2="727.20" y2="107.50" stroke="#ea1520" stroke-width="1.05" stroke-dasharray="1.4 1.6" opacity="0.9"/>
<line x1="707.90" y1="103.30" x2="727.20" y2="79.20" stroke="#ea1520" stroke-width="1.05" stroke-dasharray="1.4 1.6" opacity="0.9"/>
<line x1="707.90" y1="106.70" x2="727.20" y2="129.40" stroke="#ea1520" stroke-width="1.05" stroke-dasharray="1.4 1.6" opacity="0.9"/>
<line x1="707.90" y1="115.10" x2="727.20" y2="110.90" stroke="#ea1520" stroke-width="1.05" stroke-dasharray="1.4 1.6" opacity="0.9"/>
<line x1="707.90" y1="121.00" x2="727.20" y2="118.80" stroke="#ea1520" stroke-width="1.05" stroke-dasharray="1.4 1.6" opacity="0.9"/>
<circle cx="705.60" cy="47.60" r="2.1" fill="none" stroke="#ea1520" stroke-width="1.9"/>
<circle cx="705.60" cy="62.80" r="2.1" fill="none" stroke="#ea1520" stroke-width="1.9"/>
<circle cx="705.60" cy="78.00" r="2.1" fill="none" stroke="#ea1520" stroke-width="1.9"/>
<circle cx="705.60" cy="81.40" r="2.1" fill="none" stroke="#ea1520" stroke-width="1.9"/>
<circle cx="705.60" cy="84.70" r="2.1" fill="none" stroke="#ea1520" stroke-width="1.9"/>
<circle cx="705.60" cy="93.30" r="2.1" fill="none" stroke="#ea1520" stroke-width="1.9"/>
<circle cx="705.60" cy="99.90" r="2.1" fill="none" stroke="#ea1520" stroke-width="1.9"/>
<circle cx="705.60" cy="103.30" r="2.1" fill="none" stroke="#ea1520" stroke-width="1.9"/>
<circle cx="705.60" cy="106.70" r="2.1" fill="none" stroke="#ea1520" stroke-width="1.9"/>
<circle cx="705.60" cy="115.10" r="2.1" fill="none" stroke="#ea1520" stroke-width="1.9"/>
<circle cx="705.60" cy="121.00" r="2.1" fill="none" stroke="#ea1520" stroke-width="1.9"/>
<circle cx="729.50" cy="40.40" r="2.1" fill="none" stroke="#ea1520" stroke-width="1.9"/>
<circle cx="729.50" cy="72.90" r="2.1" fill="none" stroke="#ea1520" stroke-width="1.9"/>
<circle cx="729.50" cy="75.50" r="2.1" fill="none" stroke="#ea1520" stroke-width="1.9"/>
<circle cx="729.50" cy="79.20" r="2.1" fill="none" stroke="#ea1520" stroke-width="1.9"/>
<circle cx="729.50" cy="95.00" r="2.1" fill="none" stroke="#ea1520" stroke-width="1.9"/>
<circle cx="729.50" cy="99.10" r="2.1" fill="none" stroke="#ea1520" stroke-width="1.9"/>
<circle cx="729.50" cy="107.50" r="2.1" fill="none" stroke="#ea1520" stroke-width="1.9"/>
<circle cx="729.50" cy="110.90" r="2.1" fill="none" stroke="#ea1520" stroke-width="1.9"/>
<circle cx="729.50" cy="118.80" r="2.1" fill="none" stroke="#ea1520" stroke-width="1.9"/>
<circle cx="729.50" cy="129.40" r="2.1" fill="none" stroke="#ea1520" stroke-width="1.9"/>
<line x1="705.60" y1="88.30" x2="705.60" y2="98.40" stroke="#111" stroke-width="1.7" />
<line x1="702.60" y1="88.30" x2="708.60" y2="88.30" stroke="#111" stroke-width="1.7" />
<line x1="702.60" y1="98.40" x2="708.60" y2="98.40" stroke="#111" stroke-width="1.7" />
<line x1="699.60" y1="93.30" x2="711.60" y2="93.30" stroke="#111" stroke-width="1.9" />
<line x1="729.50" y1="90.00" x2="729.50" y2="100.60" stroke="#111" stroke-width="1.7" />
<line x1="726.50" y1="90.00" x2="732.50" y2="90.00" stroke="#111" stroke-width="1.7" />
<line x1="726.50" y1="100.60" x2="732.50" y2="100.60" stroke="#111" stroke-width="1.7" />
<line x1="723.50" y1="95.00" x2="735.50" y2="95.00" stroke="#111" stroke-width="1.9" />
<text x="130.55" y="215.60" font-size="17.3" font-weight="bold" text-anchor="middle" fill="#111" stroke="#111" stroke-width="0.3" textLength="35.50" lengthAdjust="spacingAndGlyphs" >LDS</text>
<line x1="26.20" y1="228.20" x2="26.20" y2="367.70" stroke="#1a1a1a" stroke-width="1.7" />
<line x1="25.40" y1="366.90" x2="235.00" y2="366.90" stroke="#1a1a1a" stroke-width="1.7" />
<line x1="21.20" y1="228.48" x2="26.20" y2="228.48" stroke="#1a1a1a" stroke-width="1.5" />
<text x="20.00" y="233.48" font-size="12" font-weight="bold" text-anchor="end" fill="#111" stroke="#111" stroke-width="0.25" textLength="19.48" lengthAdjust="spacing" >0.6</text>
<line x1="21.20" y1="274.62" x2="26.20" y2="274.62" stroke="#1a1a1a" stroke-width="1.5" />
<text x="20.00" y="279.62" font-size="12" font-weight="bold" text-anchor="end" fill="#111" stroke="#111" stroke-width="0.25" textLength="19.48" lengthAdjust="spacing" >0.4</text>
<line x1="21.20" y1="320.76" x2="26.20" y2="320.76" stroke="#1a1a1a" stroke-width="1.5" />
<text x="20.00" y="325.76" font-size="12" font-weight="bold" text-anchor="end" fill="#111" stroke="#111" stroke-width="0.25" textLength="19.48" lengthAdjust="spacing" >0.2</text>
<line x1="21.20" y1="366.90" x2="26.20" y2="366.90" stroke="#1a1a1a" stroke-width="1.5" />
<text x="20.00" y="371.90" font-size="12" font-weight="bold" text-anchor="end" fill="#111" stroke="#111" stroke-width="0.25" textLength="19.48" lengthAdjust="spacing" >0.0</text>
<line x1="22.70" y1="251.55" x2="26.20" y2="251.55" stroke="#1a1a1a" stroke-width="1.5" />
<line x1="22.70" y1="297.69" x2="26.20" y2="297.69" stroke="#1a1a1a" stroke-width="1.5" />
<line x1="22.70" y1="343.83" x2="26.20" y2="343.83" stroke="#1a1a1a" stroke-width="1.5" />
<line x1="48.00" y1="366.90" x2="48.00" y2="372.90" stroke="#1a1a1a" stroke-width="1.6" />
<text x="49.80" y="383.80" font-size="9.7" font-weight="bold" text-anchor="middle" fill="#111" stroke="#111" stroke-width="0.3" textLength="17.54" lengthAdjust="spacingAndGlyphs" >Pre</text>
<line x1="71.70" y1="366.90" x2="71.70" y2="372.90" stroke="#1a1a1a" stroke-width="1.6" />
<text x="73.50" y="383.80" font-size="9.7" font-weight="bold" text-anchor="middle" fill="#111" stroke="#111" stroke-width="0.3" textLength="23.87" lengthAdjust="spacingAndGlyphs" >Post</text>
<line x1="95.10" y1="366.90" x2="95.10" y2="372.90" stroke="#1a1a1a" stroke-width="1.6" />
<text x="96.90" y="383.80" font-size="9.7" font-weight="bold" text-anchor="middle" fill="#111" stroke="#111" stroke-width="0.3" textLength="17.54" lengthAdjust="spacingAndGlyphs" >Pre</text>
<line x1="118.70" y1="366.90" x2="118.70" y2="372.90" stroke="#1a1a1a" stroke-width="1.6" />
<text x="120.50" y="383.80" font-size="9.7" font-weight="bold" text-anchor="middle" fill="#111" stroke="#111" stroke-width="0.3" textLength="23.87" lengthAdjust="spacingAndGlyphs" >Post</text>
<line x1="142.00" y1="366.90" x2="142.00" y2="372.90" stroke="#1a1a1a" stroke-width="1.6" />
<text x="143.80" y="383.80" font-size="9.7" font-weight="bold" text-anchor="middle" fill="#111" stroke="#111" stroke-width="0.3" textLength="17.54" lengthAdjust="spacingAndGlyphs" >Pre</text>
<line x1="165.60" y1="366.90" x2="165.60" y2="372.90" stroke="#1a1a1a" stroke-width="1.6" />
<text x="167.40" y="383.80" font-size="9.7" font-weight="bold" text-anchor="middle" fill="#111" stroke="#111" stroke-width="0.3" textLength="23.87" lengthAdjust="spacingAndGlyphs" >Post</text>
<line x1="189.30" y1="366.90" x2="189.30" y2="372.90" stroke="#1a1a1a" stroke-width="1.6" />
<text x="191.10" y="383.80" font-size="9.7" font-weight="bold" text-anchor="middle" fill="#111" stroke="#111" stroke-width="0.3" textLength="17.54" lengthAdjust="spacingAndGlyphs" >Pre</text>
<line x1="212.60" y1="366.90" x2="212.60" y2="372.90" stroke="#1a1a1a" stroke-width="1.6" />
<text x="214.40" y="383.80" font-size="9.7" font-weight="bold" text-anchor="middle" fill="#111" stroke="#111" stroke-width="0.3" textLength="23.87" lengthAdjust="spacingAndGlyphs" >Post</text>
<path d="M95.10,256.20 V253.70 Q95.10,252.70 96.10,252.70 H117.70 Q118.70,252.70 118.70,253.70 V256.20" fill="none" stroke="#222" stroke-width="1.5"/>
<text x="106.90" y="254.50" font-size="15.5" font-weight="bold" text-anchor="middle" fill="#222" stroke="#222" stroke-width="0.3" >*</text>
<line x1="50.30" y1="269.00" x2="69.40" y2="291.60" stroke="#4d90e8" stroke-width="1.05" stroke-dasharray="1.4 1.6" opacity="0.9"/>
<line x1="50.30" y1="281.80" x2="69.40" y2="273.20" stroke="#4d90e8" stroke-width="1.05" stroke-dasharray="1.4 1.6" opacity="0.9"/>
<line x1="50.30" y1="284.70" x2="69.40" y2="278.40" stroke="#4d90e8" stroke-width="1.05" stroke-dasharray="1.4 1.6" opacity="0.9"/>
<line x1="50.30" y1="287.60" x2="69.40" y2="288.70" stroke="#4d90e8" stroke-width="1.05" stroke-dasharray="1.4 1.6" opacity="0.9"/>
<line x1="50.30" y1="290.10" x2="69.40" y2="291.60" stroke="#4d90e8" stroke-width="1.05" stroke-dasharray="1.4 1.6" opacity="0.9"/>
<line x1="50.30" y1="297.50" x2="69.40" y2="298.60" stroke="#4d90e8" stroke-width="1.05" stroke-dasharray="1.4 1.6" opacity="0.9"/>
<line x1="50.30" y1="297.50" x2="69.40" y2="312.30" stroke="#4d90e8" stroke-width="1.05" stroke-dasharray="1.4 1.6" opacity="0.9"/>
<line x1="50.30" y1="309.40" x2="69.40" y2="312.30" stroke="#4d90e8" stroke-width="1.05" stroke-dasharray="1.4 1.6" opacity="0.9"/>
<line x1="50.30" y1="316.30" x2="69.40" y2="314.60" stroke="#4d90e8" stroke-width="1.05" stroke-dasharray="1.4 1.6" opacity="0.9"/>
<line x1="50.30" y1="318.00" x2="69.40" y2="317.50" stroke="#4d90e8" stroke-width="1.05" stroke-dasharray="1.4 1.6" opacity="0.9"/>
<line x1="50.30" y1="321.50" x2="69.40" y2="317.50" stroke="#4d90e8" stroke-width="1.05" stroke-dasharray="1.4 1.6" opacity="0.9"/>
<circle cx="48.00" cy="269.00" r="2.1" fill="none" stroke="#4d90e8" stroke-width="1.9"/>
<circle cx="48.00" cy="281.80" r="2.1" fill="none" stroke="#4d90e8" stroke-width="1.9"/>
<circle cx="48.00" cy="284.70" r="2.1" fill="none" stroke="#4d90e8" stroke-width="1.9"/>
<circle cx="48.00" cy="287.60" r="2.1" fill="none" stroke="#4d90e8" stroke-width="1.9"/>
<circle cx="48.00" cy="290.10" r="2.1" fill="none" stroke="#4d90e8" stroke-width="1.9"/>
<circle cx="48.00" cy="297.50" r="2.1" fill="none" stroke="#4d90e8" stroke-width="1.9"/>
<circle cx="48.00" cy="309.40" r="2.1" fill="none" stroke="#4d90e8" stroke-width="1.9"/>
<circle cx="48.00" cy="316.30" r="2.1" fill="none" stroke="#4d90e8" stroke-width="1.9"/>
<circle cx="48.00" cy="318.00" r="2.1" fill="none" stroke="#4d90e8" stroke-width="1.9"/>
<circle cx="48.00" cy="321.50" r="2.1" fill="none" stroke="#4d90e8" stroke-width="1.9"/>
<circle cx="71.70" cy="273.20" r="2.1" fill="none" stroke="#4d90e8" stroke-width="1.9"/>
<circle cx="71.70" cy="278.40" r="2.1" fill="none" stroke="#4d90e8" stroke-width="1.9"/>
<circle cx="71.70" cy="288.70" r="2.1" fill="none" stroke="#4d90e8" stroke-width="1.9"/>
<circle cx="71.70" cy="291.60" r="2.1" fill="none" stroke="#4d90e8" stroke-width="1.9"/>
<circle cx="71.70" cy="298.60" r="2.1" fill="none" stroke="#4d90e8" stroke-width="1.9"/>
<circle cx="71.70" cy="312.30" r="2.1" fill="none" stroke="#4d90e8" stroke-width="1.9"/>
<circle cx="71.70" cy="314.60" r="2.1" fill="none" stroke="#4d90e8" stroke-width="1.9"/>
<circle cx="71.70" cy="317.50" r="2.1" fill="none" stroke="#4d90e8" stroke-width="1.9"/>
<line x1="48.00" y1="293.80" x2="48.00" y2="300.70" stroke="#111" stroke-width="1.7" />
<line x1="45.00" y1="293.80" x2="51.00" y2="293.80" stroke="#111" stroke-width="1.7" />
<line x1="45.00" y1="300.70" x2="51.00" y2="300.70" stroke="#111" stroke-width="1.7" />
<line x1="42.00" y1="297.50" x2="54.00" y2="297.50" stroke="#111" stroke-width="1.9" />
<line x1="71.70" y1="295.40" x2="71.70" y2="302.30" stroke="#111" stroke-width="1.7" />
<line x1="68.70" y1="295.40" x2="74.70" y2="295.40" stroke="#111" stroke-width="1.7" />
<line x1="68.70" y1="302.30" x2="74.70" y2="302.30" stroke="#111" stroke-width="1.7" />
<line x1="65.70" y1="298.60" x2="77.70" y2="298.60" stroke="#111" stroke-width="1.9" />
<line x1="97.40" y1="263.10" x2="116.40" y2="289.50" stroke="#1cb41c" stroke-width="1.05" stroke-dasharray="1.4 1.6" opacity="0.9"/>
<line x1="97.40" y1="269.90" x2="116.40" y2="292.20" stroke="#1cb41c" stroke-width="1.05" stroke-dasharray="1.4 1.6" opacity="0.9"/>
<line x1="97.40" y1="276.00" x2="116.40" y2="283.40" stroke="#1cb41c" stroke-width="1.05" stroke-dasharray="1.4 1.6" opacity="0.9"/>
<line x1="97.40" y1="280.70" x2="116.40" y2="300.00" stroke="#1cb41c" stroke-width="1.05" stroke-dasharray="1.4 1.6" opacity="0.9"/>
<line x1="97.40" y1="282.70" x2="116.40" y2="286.80" stroke="#1cb41c" stroke-width="1.05" stroke-dasharray="1.4 1.6" opacity="0.9"/>
<line x1="97.40" y1="290.60" x2="116.40" y2="307.00" stroke="#1cb41c" stroke-width="1.05" stroke-dasharray="1.4 1.6" opacity="0.9"/>
<line x1="97.40" y1="303.00" x2="116.40" y2="303.60" stroke="#1cb41c" stroke-width="1.05" stroke-dasharray="1.4 1.6" opacity="0.9"/>
<line x1="97.40" y1="312.40" x2="116.40" y2="303.60" stroke="#1cb41c" stroke-width="1.05" stroke-dasharray="1.4 1.6" opacity="0.9"/>
<line x1="97.40" y1="315.10" x2="116.40" y2="311.10" stroke="#1cb41c" stroke-width="1.05" stroke-dasharray="1.4 1.6" opacity="0.9"/>
<line x1="97.40" y1="326.60" x2="116.40" y2="328.00" stroke="#1cb41c" stroke-width="1.05" stroke-dasharray="1.4 1.6" opacity="0.9"/>
<line x1="97.40" y1="290.00" x2="116.40" y2="296.00" stroke="#1cb41c" stroke-width="1.05" stroke-dasharray="1.4 1.6" opacity="0.9"/>
<circle cx="95.10" cy="263.10" r="2.1" fill="none" stroke="#1cb41c" stroke-width="1.9"/>
<circle cx="95.10" cy="269.90" r="2.1" fill="none" stroke="#1cb41c" stroke-width="1.9"/>
<circle cx="95.10" cy="276.00" r="2.1" fill="none" stroke="#1cb41c" stroke-width="1.9"/>
<circle cx="95.10" cy="280.70" r="2.1" fill="none" stroke="#1cb41c" stroke-width="1.9"/>
<circle cx="95.10" cy="282.70" r="2.1" fill="none" stroke="#1cb41c" stroke-width="1.9"/>
<circle cx="95.10" cy="290.00" r="2.1" fill="none" stroke="#1cb41c" stroke-width="1.9"/>
<circle cx="95.10" cy="290.60" r="2.1" fill="none" stroke="#1cb41c" stroke-width="1.9"/>
<circle cx="95.10" cy="303.00" r="2.1" fill="none" stroke="#1cb41c" stroke-width="1.9"/>
<circle cx="95.10" cy="312.40" r="2.1" fill="none" stroke="#1cb41c" stroke-width="1.9"/>
<circle cx="95.10" cy="315.10" r="2.1" fill="none" stroke="#1cb41c" stroke-width="1.9"/>
<circle cx="95.10" cy="326.60" r="2.1" fill="none" stroke="#1cb41c" stroke-width="1.9"/>
<circle cx="118.70" cy="283.40" r="2.1" fill="none" stroke="#1cb41c" stroke-width="1.9"/>
<circle cx="118.70" cy="286.80" r="2.1" fill="none" stroke="#1cb41c" stroke-width="1.9"/>
<circle cx="118.70" cy="289.50" r="2.1" fill="none" stroke="#1cb41c" stroke-width="1.9"/>
<circle cx="118.70" cy="292.20" r="2.1" fill="none" stroke="#1cb41c" stroke-width="1.9"/>
<circle cx="118.70" cy="296.00" r="2.1" fill="none" stroke="#1cb41c" stroke-width="1.9"/>
<circle cx="118.70" cy="300.00" r="2.1" fill="none" stroke="#1cb41c" stroke-width="1.9"/>
<circle cx="118.70" cy="303.60" r="2.1" fill="none" stroke="#1cb41c" stroke-width="1.9"/>
<circle cx="118.70" cy="307.00" r="2.1" fill="none" stroke="#1cb41c" stroke-width="1.9"/>
<circle cx="118.70" cy="311.10" r="2.1" fill="none" stroke="#1cb41c" stroke-width="1.9"/>
<circle cx="118.70" cy="328.00" r="2.1" fill="none" stroke="#1cb41c" stroke-width="1.9"/>
<line x1="95.10" y1="286.30" x2="95.10" y2="294.80" stroke="#111" stroke-width="1.7" />
<line x1="92.10" y1="286.30" x2="98.10" y2="286.30" stroke="#111" stroke-width="1.7" />
<line x1="92.10" y1="294.80" x2="98.10" y2="294.80" stroke="#111" stroke-width="1.7" />
<line x1="89.10" y1="290.60" x2="101.10" y2="290.60" stroke="#111" stroke-width="1.9" />
<line x1="118.70" y1="297.00" x2="118.70" y2="303.10" stroke="#111" stroke-width="1.7" />
<line x1="115.70" y1="297.00" x2="121.70" y2="297.00" stroke="#111" stroke-width="1.7" />
<line x1="115.70" y1="303.10" x2="121.70" y2="303.10" stroke="#111" stroke-width="1.7" />
<line x1="112.70" y1="299.90" x2="124.70" y2="299.90" stroke="#111" stroke-width="1.9" />
<line x1="144.30" y1="242.40" x2="163.30" y2="274.30" stroke="#f26b1d" stroke-width="1.05" stroke-dasharray="1.4 1.6" opacity="0.9"/>
<line x1="144.30" y1="281.70" x2="163.30" y2="276.80" stroke="#f26b1d" stroke-width="1.05" stroke-dasharray="1.4 1.6" opacity="0.9"/>
<line x1="144.30" y1="287.50" x2="163.30" y2="280.10" stroke="#f26b1d" stroke-width="1.05" stroke-dasharray="1.4 1.6" opacity="0.9"/>
<line x1="144.30" y1="296.00" x2="163.30" y2="303.90" stroke="#f26b1d" stroke-width="1.05" stroke-dasharray="1.4 1.6" opacity="0.9"/>
<line x1="144.30" y1="303.00" x2="163.30" y2="295.20" stroke="#f26b1d" stroke-width="1.05" stroke-dasharray="1.4 1.6" opacity="0.9"/>
<line x1="144.30" y1="305.50" x2="163.30" y2="301.40" stroke="#f26b1d" stroke-width="1.05" stroke-dasharray="1.4 1.6" opacity="0.9"/>
<line x1="144.30" y1="313.70" x2="163.30" y2="295.20" stroke="#f26b1d" stroke-width="1.05" stroke-dasharray="1.4 1.6" opacity="0.9"/>
<line x1="144.30" y1="326.00" x2="163.30" y2="318.30" stroke="#f26b1d" stroke-width="1.05" stroke-dasharray="1.4 1.6" opacity="0.9"/>
<line x1="144.30" y1="303.00" x2="163.30" y2="311.20" stroke="#f26b1d" stroke-width="1.05" stroke-dasharray="1.4 1.6" opacity="0.9"/>
<circle cx="142.00" cy="242.40" r="2.1" fill="none" stroke="#f26b1d" stroke-width="1.9"/>
<circle cx="142.00" cy="281.70" r="2.1" fill="none" stroke="#f26b1d" stroke-width="1.9"/>
<circle cx="142.00" cy="287.50" r="2.1" fill="none" stroke="#f26b1d" stroke-width="1.9"/>
<circle cx="142.00" cy="296.00" r="2.1" fill="none" stroke="#f26b1d" stroke-width="1.9"/>
<circle cx="142.00" cy="303.00" r="2.1" fill="none" stroke="#f26b1d" stroke-width="1.9"/>
<circle cx="142.00" cy="305.50" r="2.1" fill="none" stroke="#f26b1d" stroke-width="1.9"/>
<circle cx="142.00" cy="313.70" r="2.1" fill="none" stroke="#f26b1d" stroke-width="1.9"/>
<circle cx="142.00" cy="326.00" r="2.1" fill="none" stroke="#f26b1d" stroke-width="1.9"/>
<circle cx="165.60" cy="274.30" r="2.1" fill="none" stroke="#f26b1d" stroke-width="1.9"/>
<circle cx="165.60" cy="276.80" r="2.1" fill="none" stroke="#f26b1d" stroke-width="1.9"/>
<circle cx="165.60" cy="280.10" r="2.1" fill="none" stroke="#f26b1d" stroke-width="1.9"/>
<circle cx="165.60" cy="295.20" r="2.1" fill="none" stroke="#f26b1d" stroke-width="1.9"/>
<circle cx="165.60" cy="301.40" r="2.1" fill="none" stroke="#f26b1d" stroke-width="1.9"/>
<circle cx="165.60" cy="303.90" r="2.1" fill="none" stroke="#f26b1d" stroke-width="1.9"/>
<circle cx="165.60" cy="311.20" r="2.1" fill="none" stroke="#f26b1d" stroke-width="1.9"/>
<circle cx="165.60" cy="318.30" r="2.1" fill="none" stroke="#f26b1d" stroke-width="1.9"/>
<line x1="142.00" y1="292.00" x2="142.00" y2="300.80" stroke="#111" stroke-width="1.7" />
<line x1="139.00" y1="292.00" x2="145.00" y2="292.00" stroke="#111" stroke-width="1.7" />
<line x1="139.00" y1="300.80" x2="145.00" y2="300.80" stroke="#111" stroke-width="1.7" />
<line x1="136.00" y1="296.00" x2="148.00" y2="296.00" stroke="#111" stroke-width="1.9" />
<line x1="165.60" y1="292.00" x2="165.60" y2="298.90" stroke="#111" stroke-width="1.7" />
<line x1="162.60" y1="292.00" x2="168.60" y2="292.00" stroke="#111" stroke-width="1.7" />
<line x1="162.60" y1="298.90" x2="168.60" y2="298.90" stroke="#111" stroke-width="1.7" />
<line x1="159.60" y1="295.20" x2="171.60" y2="295.20" stroke="#111" stroke-width="1.9" />
<line x1="191.60" y1="255.80" x2="210.30" y2="290.00" stroke="#ea1520" stroke-width="1.05" stroke-dasharray="1.4 1.6" opacity="0.9"/>
<line x1="191.60" y1="283.00" x2="210.30" y2="252.80" stroke="#ea1520" stroke-width="1.05" stroke-dasharray="1.4 1.6" opacity="0.9"/>
<line x1="191.60" y1="273.50" x2="210.30" y2="273.10" stroke="#ea1520" stroke-width="1.05" stroke-dasharray="1.4 1.6" opacity="0.9"/>
<line x1="191.60" y1="276.60" x2="210.30" y2="279.20" stroke="#ea1520" stroke-width="1.05" stroke-dasharray="1.4 1.6" opacity="0.9"/>
<line x1="191.60" y1="279.80" x2="210.30" y2="276.00" stroke="#ea1520" stroke-width="1.05" stroke-dasharray="1.4 1.6" opacity="0.9"/>
<line x1="191.60" y1="289.60" x2="210.30" y2="282.30" stroke="#ea1520" stroke-width="1.05" stroke-dasharray="1.4 1.6" opacity="0.9"/>
<line x1="191.60" y1="296.90" x2="210.30" y2="298.80" stroke="#ea1520" stroke-width="1.05" stroke-dasharray="1.4 1.6" opacity="0.9"/>
<line x1="191.60" y1="305.80" x2="210.30" y2="302.00" stroke="#ea1520" stroke-width="1.05" stroke-dasharray="1.4 1.6" opacity="0.9"/>
<line x1="191.60" y1="308.30" x2="210.30" y2="304.50" stroke="#ea1520" stroke-width="1.05" stroke-dasharray="1.4 1.6" opacity="0.9"/>
<line x1="191.60" y1="311.50" x2="210.30" y2="307.00" stroke="#ea1520" stroke-width="1.05" stroke-dasharray="1.4 1.6" opacity="0.9"/>
<line x1="191.60" y1="289.00" x2="210.30" y2="296.00" stroke="#ea1520" stroke-width="1.05" stroke-dasharray="1.4 1.6" opacity="0.9"/>
<circle cx="189.30" cy="255.80" r="2.1" fill="none" stroke="#ea1520" stroke-width="1.9"/>
<circle cx="189.30" cy="273.50" r="2.1" fill="none" stroke="#ea1520" stroke-width="1.9"/>
<circle cx="189.30" cy="276.60" r="2.1" fill="none" stroke="#ea1520" stroke-width="1.9"/>
<circle cx="189.30" cy="279.80" r="2.1" fill="none" stroke="#ea1520" stroke-width="1.9"/>
<circle cx="189.30" cy="283.00" r="2.1" fill="none" stroke="#ea1520" stroke-width="1.9"/>
<circle cx="189.30" cy="289.00" r="2.1" fill="none" stroke="#ea1520" stroke-width="1.9"/>
<circle cx="189.30" cy="289.60" r="2.1" fill="none" stroke="#ea1520" stroke-width="1.9"/>
<circle cx="189.30" cy="296.90" r="2.1" fill="none" stroke="#ea1520" stroke-width="1.9"/>
<circle cx="189.30" cy="305.80" r="2.1" fill="none" stroke="#ea1520" stroke-width="1.9"/>
<circle cx="189.30" cy="308.30" r="2.1" fill="none" stroke="#ea1520" stroke-width="1.9"/>
<circle cx="189.30" cy="311.50" r="2.1" fill="none" stroke="#ea1520" stroke-width="1.9"/>
<circle cx="212.60" cy="252.80" r="2.1" fill="none" stroke="#ea1520" stroke-width="1.9"/>
<circle cx="212.60" cy="273.10" r="2.1" fill="none" stroke="#ea1520" stroke-width="1.9"/>
<circle cx="212.60" cy="276.00" r="2.1" fill="none" stroke="#ea1520" stroke-width="1.9"/>
<circle cx="212.60" cy="279.20" r="2.1" fill="none" stroke="#ea1520" stroke-width="1.9"/>
<circle cx="212.60" cy="282.30" r="2.1" fill="none" stroke="#ea1520" stroke-width="1.9"/>
<circle cx="212.60" cy="290.00" r="2.1" fill="none" stroke="#ea1520" stroke-width="1.9"/>
<circle cx="212.60" cy="296.00" r="2.1" fill="none" stroke="#ea1520" stroke-width="1.9"/>
<circle cx="212.60" cy="298.80" r="2.1" fill="none" stroke="#ea1520" stroke-width="1.9"/>
<circle cx="212.60" cy="302.00" r="2.1" fill="none" stroke="#ea1520" stroke-width="1.9"/>
<circle cx="212.60" cy="304.50" r="2.1" fill="none" stroke="#ea1520" stroke-width="1.9"/>
<circle cx="212.60" cy="307.00" r="2.1" fill="none" stroke="#ea1520" stroke-width="1.9"/>
<line x1="189.30" y1="286.00" x2="189.30" y2="293.60" stroke="#111" stroke-width="1.7" />
<line x1="186.30" y1="286.00" x2="192.30" y2="286.00" stroke="#111" stroke-width="1.7" />
<line x1="186.30" y1="293.60" x2="192.30" y2="293.60" stroke="#111" stroke-width="1.7" />
<line x1="183.30" y1="289.60" x2="195.30" y2="289.60" stroke="#111" stroke-width="1.9" />
<line x1="212.60" y1="286.00" x2="212.60" y2="293.60" stroke="#111" stroke-width="1.7" />
<line x1="209.60" y1="286.00" x2="215.60" y2="286.00" stroke="#111" stroke-width="1.7" />
<line x1="209.60" y1="293.60" x2="215.60" y2="293.60" stroke="#111" stroke-width="1.7" />
<line x1="206.60" y1="289.90" x2="218.60" y2="289.90" stroke="#111" stroke-width="1.9" />
<g fill="none" stroke="#1a1a1a" stroke-width="1.5">
<path d="M95.2,236 C97.5,233.6 101,233.4 106.9,233.4 C112.8,233.4 116.3,233.6 118.6,236"/>
<path d="M106.9,233.5 V230.5 H201 V233.5"/>
<path d="M189.3,236 C191.6,233.6 195.1,233.4 201,233.4 C206.9,233.4 210.4,233.6 212.7,236"/>
</g>
<text x="154.00" y="226.20" font-size="11.5" font-weight="bold" text-anchor="middle" fill="#1a1a1a" stroke="#1a1a1a" stroke-width="0.3" >†</text>
<text x="357.40" y="215.70" font-size="17.3" font-weight="bold" text-anchor="start" fill="#111" stroke="#111" stroke-width="0.3" textLength="36.30" lengthAdjust="spacingAndGlyphs" >DTC</text>
<text x="394.60" y="220.40" font-size="11.5" font-weight="bold" text-anchor="start" fill="#111" stroke="#111" stroke-width="0.45" textLength="23.60" lengthAdjust="spacingAndGlyphs" >LDS</text>
<line x1="284.20" y1="228.00" x2="284.20" y2="367.80" stroke="#1a1a1a" stroke-width="1.7" />
<line x1="283.40" y1="367.00" x2="492.00" y2="367.00" stroke="#1a1a1a" stroke-width="1.7" />
<line x1="279.20" y1="239.30" x2="284.20" y2="239.30" stroke="#1a1a1a" stroke-width="1.5" />
<text x="278.00" y="244.30" font-size="12" font-weight="bold" text-anchor="end" fill="#111" stroke="#111" stroke-width="0.25" textLength="14.75" lengthAdjust="spacing" >50</text>
<line x1="279.20" y1="297.30" x2="284.20" y2="297.30" stroke="#1a1a1a" stroke-width="1.5" />
<text x="278.00" y="302.30" font-size="12" font-weight="bold" text-anchor="end" fill="#111" stroke="#111" stroke-width="0.25" textLength="6.67" lengthAdjust="spacing" >0</text>
<line x1="279.20" y1="355.30" x2="284.20" y2="355.30" stroke="#1a1a1a" stroke-width="1.5" />
<text x="278.00" y="360.30" font-size="12" font-weight="bold" text-anchor="end" fill="#111" stroke="#111" stroke-width="0.25" textLength="20.14" lengthAdjust="spacing" >-50</text>
<line x1="280.70" y1="250.90" x2="284.20" y2="250.90" stroke="#1a1a1a" stroke-width="1.5" />
<line x1="280.70" y1="262.50" x2="284.20" y2="262.50" stroke="#1a1a1a" stroke-width="1.5" />
<line x1="280.70" y1="274.10" x2="284.20" y2="274.10" stroke="#1a1a1a" stroke-width="1.5" />
<line x1="280.70" y1="285.70" x2="284.20" y2="285.70" stroke="#1a1a1a" stroke-width="1.5" />
<line x1="280.70" y1="308.90" x2="284.20" y2="308.90" stroke="#1a1a1a" stroke-width="1.5" />
<line x1="280.70" y1="320.50" x2="284.20" y2="320.50" stroke="#1a1a1a" stroke-width="1.5" />
<line x1="280.70" y1="332.10" x2="284.20" y2="332.10" stroke="#1a1a1a" stroke-width="1.5" />
<line x1="280.70" y1="343.70" x2="284.20" y2="343.70" stroke="#1a1a1a" stroke-width="1.5" />
<line x1="280.70" y1="227.70" x2="284.20" y2="227.70" stroke="#1a1a1a" stroke-width="1.5" />
<line x1="322.80" y1="367.00" x2="322.80" y2="373.00" stroke="#1a1a1a" stroke-width="1.6" />
<text x="325.00" y="386.50" font-size="12" font-weight="bold" text-anchor="middle" fill="#111" stroke="#111" stroke-width="0.3" textLength="21.75" lengthAdjust="spacing" >Pre</text>
<line x1="366.20" y1="367.00" x2="366.20" y2="373.00" stroke="#1a1a1a" stroke-width="1.6" />
<text x="368.40" y="386.50" font-size="12" font-weight="bold" text-anchor="middle" fill="#111" stroke="#111" stroke-width="0.3" textLength="29.61" lengthAdjust="spacing" >Post</text>
<line x1="409.30" y1="367.00" x2="409.30" y2="373.00" stroke="#1a1a1a" stroke-width="1.6" />
<text x="411.50" y="386.50" font-size="12" font-weight="bold" text-anchor="middle" fill="#111" stroke="#111" stroke-width="0.3" textLength="21.75" lengthAdjust="spacing" >Pre</text>
<line x1="452.60" y1="367.00" x2="452.60" y2="373.00" stroke="#1a1a1a" stroke-width="1.6" />
<text x="454.80" y="386.50" font-size="12" font-weight="bold" text-anchor="middle" fill="#111" stroke="#111" stroke-width="0.3" textLength="29.61" lengthAdjust="spacing" >Post</text>
<path d="M322.80,256.30 V253.80 Q322.80,252.80 323.80,252.80 H365.20 Q366.20,252.80 366.20,253.80 V256.30" fill="none" stroke="#222" stroke-width="1.5"/>
<text x="344.60" y="254.80" font-size="15.5" font-weight="bold" text-anchor="middle" fill="#222" stroke="#222" stroke-width="0.3" >*</text>
<line x1="325.10" y1="275.20" x2="363.90" y2="273.20" stroke="#1cb41c" stroke-width="1.05" stroke-dasharray="1.4 1.6" opacity="0.9"/>
<line x1="325.10" y1="285.00" x2="363.90" y2="275.70" stroke="#1cb41c" stroke-width="1.05" stroke-dasharray="1.4 1.6" opacity="0.9"/>
<line x1="325.10" y1="290.40" x2="363.90" y2="278.10" stroke="#1cb41c" stroke-width="1.05" stroke-dasharray="1.4 1.6" opacity="0.9"/>
<line x1="325.10" y1="293.70" x2="363.90" y2="302.70" stroke="#1cb41c" stroke-width="1.05" stroke-dasharray="1.4 1.6" opacity="0.9"/>
<line x1="325.10" y1="296.10" x2="363.90" y2="306.00" stroke="#1cb41c" stroke-width="1.05" stroke-dasharray="1.4 1.6" opacity="0.9"/>
<line x1="325.10" y1="305.00" x2="363.90" y2="289.60" stroke="#1cb41c" stroke-width="1.05" stroke-dasharray="1.4 1.6" opacity="0.9"/>
<line x1="325.10" y1="309.00" x2="363.90" y2="286.30" stroke="#1cb41c" stroke-width="1.05" stroke-dasharray="1.4 1.6" opacity="0.9"/>
<line x1="325.10" y1="314.20" x2="363.90" y2="275.70" stroke="#1cb41c" stroke-width="1.05" stroke-dasharray="1.4 1.6" opacity="0.9"/>
<line x1="325.10" y1="321.60" x2="363.90" y2="302.70" stroke="#1cb41c" stroke-width="1.05" stroke-dasharray="1.4 1.6" opacity="0.9"/>
<line x1="325.10" y1="327.00" x2="363.90" y2="326.50" stroke="#1cb41c" stroke-width="1.05" stroke-dasharray="1.4 1.6" opacity="0.9"/>
<line x1="325.10" y1="335.80" x2="363.90" y2="312.50" stroke="#1cb41c" stroke-width="1.05" stroke-dasharray="1.4 1.6" opacity="0.9"/>
<line x1="325.10" y1="358.10" x2="363.90" y2="309.30" stroke="#1cb41c" stroke-width="1.05" stroke-dasharray="1.4 1.6" opacity="0.9"/>
<line x1="325.10" y1="311.00" x2="363.90" y2="306.00" stroke="#1cb41c" stroke-width="1.05" stroke-dasharray="1.4 1.6" opacity="0.9"/>
<circle cx="322.80" cy="275.20" r="2.1" fill="none" stroke="#1cb41c" stroke-width="1.9"/>
<circle cx="322.80" cy="285.00" r="2.1" fill="none" stroke="#1cb41c" stroke-width="1.9"/>
<circle cx="322.80" cy="290.40" r="2.1" fill="none" stroke="#1cb41c" stroke-width="1.9"/>
<circle cx="322.80" cy="293.70" r="2.1" fill="none" stroke="#1cb41c" stroke-width="1.9"/>
<circle cx="322.80" cy="296.10" r="2.1" fill="none" stroke="#1cb41c" stroke-width="1.9"/>
<circle cx="322.80" cy="305.00" r="2.1" fill="none" stroke="#1cb41c" stroke-width="1.9"/>
<circle cx="322.80" cy="309.00" r="2.1" fill="none" stroke="#1cb41c" stroke-width="1.9"/>
<circle cx="322.80" cy="311.00" r="2.1" fill="none" stroke="#1cb41c" stroke-width="1.9"/>
<circle cx="322.80" cy="314.20" r="2.1" fill="none" stroke="#1cb41c" stroke-width="1.9"/>
<circle cx="322.80" cy="321.60" r="2.1" fill="none" stroke="#1cb41c" stroke-width="1.9"/>
<circle cx="322.80" cy="327.00" r="2.1" fill="none" stroke="#1cb41c" stroke-width="1.9"/>
<circle cx="322.80" cy="335.80" r="2.1" fill="none" stroke="#1cb41c" stroke-width="1.9"/>
<circle cx="322.80" cy="358.10" r="2.1" fill="none" stroke="#1cb41c" stroke-width="1.9"/>
<circle cx="366.20" cy="273.20" r="2.1" fill="none" stroke="#1cb41c" stroke-width="1.9"/>
<circle cx="366.20" cy="275.70" r="2.1" fill="none" stroke="#1cb41c" stroke-width="1.9"/>
<circle cx="366.20" cy="278.10" r="2.1" fill="none" stroke="#1cb41c" stroke-width="1.9"/>
<circle cx="366.20" cy="286.30" r="2.1" fill="none" stroke="#1cb41c" stroke-width="1.9"/>
<circle cx="366.20" cy="289.60" r="2.1" fill="none" stroke="#1cb41c" stroke-width="1.9"/>
<circle cx="366.20" cy="302.70" r="2.1" fill="none" stroke="#1cb41c" stroke-width="1.9"/>
<circle cx="366.20" cy="306.00" r="2.1" fill="none" stroke="#1cb41c" stroke-width="1.9"/>
<circle cx="366.20" cy="309.30" r="2.1" fill="none" stroke="#1cb41c" stroke-width="1.9"/>
<circle cx="366.20" cy="312.50" r="2.1" fill="none" stroke="#1cb41c" stroke-width="1.9"/>
<circle cx="366.20" cy="326.50" r="2.1" fill="none" stroke="#1cb41c" stroke-width="1.9"/>
<line x1="322.80" y1="303.00" x2="322.80" y2="314.90" stroke="#111" stroke-width="1.7" />
<line x1="319.80" y1="303.00" x2="325.80" y2="303.00" stroke="#111" stroke-width="1.7" />
<line x1="319.80" y1="314.90" x2="325.80" y2="314.90" stroke="#111" stroke-width="1.7" />
<line x1="316.80" y1="308.90" x2="328.80" y2="308.90" stroke="#111" stroke-width="1.9" />
<line x1="366.20" y1="292.40" x2="366.20" y2="300.20" stroke="#111" stroke-width="1.7" />
<line x1="363.20" y1="292.40" x2="369.20" y2="292.40" stroke="#111" stroke-width="1.7" />
<line x1="363.20" y1="300.20" x2="369.20" y2="300.20" stroke="#111" stroke-width="1.7" />
<line x1="360.20" y1="296.30" x2="372.20" y2="296.30" stroke="#111" stroke-width="1.9" />
<line x1="411.60" y1="264.60" x2="450.30" y2="293.50" stroke="#ea1520" stroke-width="1.05" stroke-dasharray="1.4 1.6" opacity="0.9"/>
<line x1="411.60" y1="275.10" x2="450.30" y2="320.90" stroke="#ea1520" stroke-width="1.05" stroke-dasharray="1.4 1.6" opacity="0.9"/>
<line x1="411.60" y1="287.10" x2="450.30" y2="289.50" stroke="#ea1520" stroke-width="1.05" stroke-dasharray="1.4 1.6" opacity="0.9"/>
<line x1="411.60" y1="298.40" x2="450.30" y2="328.10" stroke="#ea1520" stroke-width="1.05" stroke-dasharray="1.4 1.6" opacity="0.9"/>
<line x1="411.60" y1="301.60" x2="450.30" y2="279.90" stroke="#ea1520" stroke-width="1.05" stroke-dasharray="1.4 1.6" opacity="0.9"/>
<line x1="411.60" y1="311.30" x2="450.30" y2="324.10" stroke="#ea1520" stroke-width="1.05" stroke-dasharray="1.4 1.6" opacity="0.9"/>
<line x1="411.60" y1="318.40" x2="450.30" y2="308.40" stroke="#ea1520" stroke-width="1.05" stroke-dasharray="1.4 1.6" opacity="0.9"/>
<line x1="411.60" y1="328.10" x2="450.30" y2="286.30" stroke="#ea1520" stroke-width="1.05" stroke-dasharray="1.4 1.6" opacity="0.9"/>
<line x1="411.60" y1="335.30" x2="450.30" y2="317.60" stroke="#ea1520" stroke-width="1.05" stroke-dasharray="1.4 1.6" opacity="0.9"/>
<line x1="411.60" y1="337.70" x2="450.30" y2="293.50" stroke="#ea1520" stroke-width="1.05" stroke-dasharray="1.4 1.6" opacity="0.9"/>
<line x1="411.60" y1="340.90" x2="450.30" y2="343.00" stroke="#ea1520" stroke-width="1.05" stroke-dasharray="1.4 1.6" opacity="0.9"/>
<line x1="411.60" y1="311.00" x2="450.30" y2="308.40" stroke="#ea1520" stroke-width="1.05" stroke-dasharray="1.4 1.6" opacity="0.9"/>
<circle cx="409.30" cy="264.60" r="2.1" fill="none" stroke="#ea1520" stroke-width="1.9"/>
<circle cx="409.30" cy="275.10" r="2.1" fill="none" stroke="#ea1520" stroke-width="1.9"/>
<circle cx="409.30" cy="287.10" r="2.1" fill="none" stroke="#ea1520" stroke-width="1.9"/>
<circle cx="409.30" cy="298.40" r="2.1" fill="none" stroke="#ea1520" stroke-width="1.9"/>
<circle cx="409.30" cy="301.60" r="2.1" fill="none" stroke="#ea1520" stroke-width="1.9"/>
<circle cx="409.30" cy="311.00" r="2.1" fill="none" stroke="#ea1520" stroke-width="1.9"/>
<circle cx="409.30" cy="311.30" r="2.1" fill="none" stroke="#ea1520" stroke-width="1.9"/>
<circle cx="409.30" cy="318.40" r="2.1" fill="none" stroke="#ea1520" stroke-width="1.9"/>
<circle cx="409.30" cy="328.10" r="2.1" fill="none" stroke="#ea1520" stroke-width="1.9"/>
<circle cx="409.30" cy="335.30" r="2.1" fill="none" stroke="#ea1520" stroke-width="1.9"/>
<circle cx="409.30" cy="337.70" r="2.1" fill="none" stroke="#ea1520" stroke-width="1.9"/>
<circle cx="409.30" cy="340.90" r="2.1" fill="none" stroke="#ea1520" stroke-width="1.9"/>
<circle cx="452.60" cy="279.90" r="2.1" fill="none" stroke="#ea1520" stroke-width="1.9"/>
<circle cx="452.60" cy="286.30" r="2.1" fill="none" stroke="#ea1520" stroke-width="1.9"/>
<circle cx="452.60" cy="289.50" r="2.1" fill="none" stroke="#ea1520" stroke-width="1.9"/>
<circle cx="452.60" cy="293.50" r="2.1" fill="none" stroke="#ea1520" stroke-width="1.9"/>
<circle cx="452.60" cy="308.40" r="2.1" fill="none" stroke="#ea1520" stroke-width="1.9"/>
<circle cx="452.60" cy="317.60" r="2.1" fill="none" stroke="#ea1520" stroke-width="1.9"/>
<circle cx="452.60" cy="320.90" r="2.1" fill="none" stroke="#ea1520" stroke-width="1.9"/>
<circle cx="452.60" cy="324.10" r="2.1" fill="none" stroke="#ea1520" stroke-width="1.9"/>
<circle cx="452.60" cy="328.10" r="2.1" fill="none" stroke="#ea1520" stroke-width="1.9"/>
<circle cx="452.60" cy="343.00" r="2.1" fill="none" stroke="#ea1520" stroke-width="1.9"/>
<line x1="409.30" y1="305.00" x2="409.30" y2="318.00" stroke="#111" stroke-width="1.7" />
<line x1="406.30" y1="305.00" x2="412.30" y2="305.00" stroke="#111" stroke-width="1.7" />
<line x1="406.30" y1="318.00" x2="412.30" y2="318.00" stroke="#111" stroke-width="1.7" />
<line x1="403.30" y1="311.30" x2="415.30" y2="311.30" stroke="#111" stroke-width="1.9" />
<line x1="452.60" y1="303.30" x2="452.60" y2="312.90" stroke="#111" stroke-width="1.7" />
<line x1="449.60" y1="303.30" x2="455.60" y2="303.30" stroke="#111" stroke-width="1.7" />
<line x1="449.60" y1="312.90" x2="455.60" y2="312.90" stroke="#111" stroke-width="1.7" />
<line x1="446.60" y1="308.40" x2="458.60" y2="308.40" stroke="#111" stroke-width="1.9" />
<text x="133.60" y="420.70" font-size="16.0" font-weight="bold" text-anchor="middle" fill="#111" stroke="#111" stroke-width="0.3" textLength="210.50" lengthAdjust="spacingAndGlyphs" >number of correct answers</text>
<line x1="26.20" y1="429.00" x2="26.20" y2="570.50" stroke="#1a1a1a" stroke-width="1.7" />
<line x1="25.40" y1="569.70" x2="238.20" y2="569.70" stroke="#1a1a1a" stroke-width="1.7" />
<line x1="21.20" y1="428.50" x2="26.20" y2="428.50" stroke="#1a1a1a" stroke-width="1.5" />
<text x="20.00" y="433.50" font-size="12" font-weight="bold" text-anchor="end" fill="#111" stroke="#111" stroke-width="0.25" textLength="14.75" lengthAdjust="spacing" >20</text>
<line x1="21.20" y1="499.10" x2="26.20" y2="499.10" stroke="#1a1a1a" stroke-width="1.5" />
<text x="20.00" y="504.10" font-size="12" font-weight="bold" text-anchor="end" fill="#111" stroke="#111" stroke-width="0.25" textLength="14.75" lengthAdjust="spacing" >10</text>
<line x1="21.20" y1="569.70" x2="26.20" y2="569.70" stroke="#1a1a1a" stroke-width="1.5" />
<text x="20.00" y="574.70" font-size="12" font-weight="bold" text-anchor="end" fill="#111" stroke="#111" stroke-width="0.25" textLength="6.67" lengthAdjust="spacing" >0</text>
<line x1="22.70" y1="555.58" x2="26.20" y2="555.58" stroke="#1a1a1a" stroke-width="1.5" />
<line x1="22.70" y1="541.46" x2="26.20" y2="541.46" stroke="#1a1a1a" stroke-width="1.5" />
<line x1="22.70" y1="527.34" x2="26.20" y2="527.34" stroke="#1a1a1a" stroke-width="1.5" />
<line x1="22.70" y1="513.22" x2="26.20" y2="513.22" stroke="#1a1a1a" stroke-width="1.5" />
<line x1="22.70" y1="484.98" x2="26.20" y2="484.98" stroke="#1a1a1a" stroke-width="1.5" />
<line x1="22.70" y1="470.86" x2="26.20" y2="470.86" stroke="#1a1a1a" stroke-width="1.5" />
<line x1="22.70" y1="456.74" x2="26.20" y2="456.74" stroke="#1a1a1a" stroke-width="1.5" />
<line x1="22.70" y1="442.62" x2="26.20" y2="442.62" stroke="#1a1a1a" stroke-width="1.5" />
<line x1="66.20" y1="569.70" x2="66.20" y2="575.70" stroke="#1a1a1a" stroke-width="1.6" />
<text x="68.80" y="589.60" font-size="12.5" font-weight="bold" text-anchor="middle" fill="#111" stroke="#111" stroke-width="0.3" textLength="22.55" lengthAdjust="spacing" >Pre</text>
<line x1="110.10" y1="569.70" x2="110.10" y2="575.70" stroke="#1a1a1a" stroke-width="1.6" />
<text x="112.70" y="589.60" font-size="12.5" font-weight="bold" text-anchor="middle" fill="#111" stroke="#111" stroke-width="0.3" textLength="30.69" lengthAdjust="spacing" >Post</text>
<line x1="154.10" y1="569.70" x2="154.10" y2="575.70" stroke="#1a1a1a" stroke-width="1.6" />
<text x="156.70" y="589.60" font-size="12.5" font-weight="bold" text-anchor="middle" fill="#111" stroke="#111" stroke-width="0.3" textLength="22.55" lengthAdjust="spacing" >Pre</text>
<line x1="198.00" y1="569.70" x2="198.00" y2="575.70" stroke="#1a1a1a" stroke-width="1.6" />
<text x="200.60" y="589.60" font-size="12.5" font-weight="bold" text-anchor="middle" fill="#111" stroke="#111" stroke-width="0.3" textLength="30.69" lengthAdjust="spacing" >Post</text>
<path d="M66.20,453.30 V450.80 Q66.20,449.80 67.20,449.80 H109.10 Q110.10,449.80 110.10,450.80 V453.30" fill="none" stroke="#222" stroke-width="1.5"/>
<text x="87.90" y="451.80" font-size="15.5" font-weight="bold" text-anchor="middle" fill="#222" stroke="#222" stroke-width="0.3" >*</text>
<line x1="68.50" y1="484.98" x2="107.80" y2="463.80" stroke="#1cb41c" stroke-width="1.05" stroke-dasharray="1.4 1.6" opacity="0.9"/>
<line x1="68.50" y1="484.98" x2="107.80" y2="477.92" stroke="#1cb41c" stroke-width="1.05" stroke-dasharray="1.4 1.6" opacity="0.9"/>
<line x1="68.50" y1="506.16" x2="107.80" y2="520.28" stroke="#1cb41c" stroke-width="1.05" stroke-dasharray="1.4 1.6" opacity="0.9"/>
<line x1="68.50" y1="513.22" x2="107.80" y2="499.10" stroke="#1cb41c" stroke-width="1.05" stroke-dasharray="1.4 1.6" opacity="0.9"/>
<line x1="68.50" y1="520.28" x2="107.80" y2="506.16" stroke="#1cb41c" stroke-width="1.05" stroke-dasharray="1.4 1.6" opacity="0.9"/>
<line x1="68.50" y1="534.40" x2="107.80" y2="513.22" stroke="#1cb41c" stroke-width="1.05" stroke-dasharray="1.4 1.6" opacity="0.9"/>
<line x1="68.50" y1="534.40" x2="107.80" y2="520.28" stroke="#1cb41c" stroke-width="1.05" stroke-dasharray="1.4 1.6" opacity="0.9"/>
<line x1="68.50" y1="548.52" x2="107.80" y2="527.34" stroke="#1cb41c" stroke-width="1.05" stroke-dasharray="1.4 1.6" opacity="0.9"/>
<line x1="68.50" y1="555.58" x2="107.80" y2="548.52" stroke="#1cb41c" stroke-width="1.05" stroke-dasharray="1.4 1.6" opacity="0.9"/>
<line x1="68.50" y1="562.64" x2="107.80" y2="534.40" stroke="#1cb41c" stroke-width="1.05" stroke-dasharray="1.4 1.6" opacity="0.9"/>
<line x1="68.50" y1="506.16" x2="107.80" y2="513.22" stroke="#1cb41c" stroke-width="1.05" stroke-dasharray="1.4 1.6" opacity="0.9"/>
<circle cx="66.20" cy="485.00" r="2.1" fill="none" stroke="#1cb41c" stroke-width="1.9"/>
<circle cx="66.20" cy="506.20" r="2.1" fill="none" stroke="#1cb41c" stroke-width="1.9"/>
<circle cx="66.20" cy="513.20" r="2.1" fill="none" stroke="#1cb41c" stroke-width="1.9"/>
<circle cx="66.20" cy="520.30" r="2.1" fill="none" stroke="#1cb41c" stroke-width="1.9"/>
<circle cx="66.20" cy="534.40" r="2.1" fill="none" stroke="#1cb41c" stroke-width="1.9"/>
<circle cx="66.20" cy="548.50" r="2.1" fill="none" stroke="#1cb41c" stroke-width="1.9"/>
<circle cx="66.20" cy="555.60" r="2.1" fill="none" stroke="#1cb41c" stroke-width="1.9"/>
<circle cx="66.20" cy="562.60" r="2.1" fill="none" stroke="#1cb41c" stroke-width="1.9"/>
<circle cx="110.10" cy="463.80" r="2.1" fill="none" stroke="#1cb41c" stroke-width="1.9"/>
<circle cx="110.10" cy="477.90" r="2.1" fill="none" stroke="#1cb41c" stroke-width="1.9"/>
<circle cx="110.10" cy="499.10" r="2.1" fill="none" stroke="#1cb41c" stroke-width="1.9"/>
<circle cx="110.10" cy="506.20" r="2.1" fill="none" stroke="#1cb41c" stroke-width="1.9"/>
<circle cx="110.10" cy="513.20" r="2.1" fill="none" stroke="#1cb41c" stroke-width="1.9"/>
<circle cx="110.10" cy="520.30" r="2.1" fill="none" stroke="#1cb41c" stroke-width="1.9"/>
<circle cx="110.10" cy="527.30" r="2.1" fill="none" stroke="#1cb41c" stroke-width="1.9"/>
<circle cx="110.10" cy="534.40" r="2.1" fill="none" stroke="#1cb41c" stroke-width="1.9"/>
<circle cx="110.10" cy="548.50" r="2.1" fill="none" stroke="#1cb41c" stroke-width="1.9"/>
<line x1="66.20" y1="518.87" x2="66.20" y2="532.28" stroke="#111" stroke-width="1.7" />
<line x1="63.20" y1="518.87" x2="69.20" y2="518.87" stroke="#111" stroke-width="1.7" />
<line x1="63.20" y1="532.28" x2="69.20" y2="532.28" stroke="#111" stroke-width="1.7" />
<line x1="60.20" y1="525.93" x2="72.20" y2="525.93" stroke="#111" stroke-width="1.9" />
<line x1="110.10" y1="506.87" x2="110.10" y2="517.46" stroke="#111" stroke-width="1.7" />
<line x1="107.10" y1="506.87" x2="113.10" y2="506.87" stroke="#111" stroke-width="1.7" />
<line x1="107.10" y1="517.46" x2="113.10" y2="517.46" stroke="#111" stroke-width="1.7" />
<line x1="104.10" y1="512.51" x2="116.10" y2="512.51" stroke="#111" stroke-width="1.9" />
<line x1="156.40" y1="484.98" x2="195.70" y2="470.86" stroke="#ea1520" stroke-width="1.05" stroke-dasharray="1.4 1.6" opacity="0.9"/>
<line x1="156.40" y1="484.98" x2="195.70" y2="492.04" stroke="#ea1520" stroke-width="1.05" stroke-dasharray="1.4 1.6" opacity="0.9"/>
<line x1="156.40" y1="513.22" x2="195.70" y2="484.98" stroke="#ea1520" stroke-width="1.05" stroke-dasharray="1.4 1.6" opacity="0.9"/>
<line x1="156.40" y1="513.22" x2="195.70" y2="499.10" stroke="#ea1520" stroke-width="1.05" stroke-dasharray="1.4 1.6" opacity="0.9"/>
<line x1="156.40" y1="520.28" x2="195.70" y2="506.16" stroke="#ea1520" stroke-width="1.05" stroke-dasharray="1.4 1.6" opacity="0.9"/>
<line x1="156.40" y1="520.28" x2="195.70" y2="527.34" stroke="#ea1520" stroke-width="1.05" stroke-dasharray="1.4 1.6" opacity="0.9"/>
<line x1="156.40" y1="534.40" x2="195.70" y2="527.34" stroke="#ea1520" stroke-width="1.05" stroke-dasharray="1.4 1.6" opacity="0.9"/>
<line x1="156.40" y1="534.40" x2="195.70" y2="534.40" stroke="#ea1520" stroke-width="1.05" stroke-dasharray="1.4 1.6" opacity="0.9"/>
<line x1="156.40" y1="541.46" x2="195.70" y2="541.46" stroke="#ea1520" stroke-width="1.05" stroke-dasharray="1.4 1.6" opacity="0.9"/>
<line x1="156.40" y1="541.46" x2="195.70" y2="548.52" stroke="#ea1520" stroke-width="1.05" stroke-dasharray="1.4 1.6" opacity="0.9"/>
<line x1="156.40" y1="548.52" x2="195.70" y2="527.34" stroke="#ea1520" stroke-width="1.05" stroke-dasharray="1.4 1.6" opacity="0.9"/>
<line x1="156.40" y1="555.58" x2="195.70" y2="555.58" stroke="#ea1520" stroke-width="1.05" stroke-dasharray="1.4 1.6" opacity="0.9"/>
<line x1="156.40" y1="562.64" x2="195.70" y2="555.58" stroke="#ea1520" stroke-width="1.05" stroke-dasharray="1.4 1.6" opacity="0.9"/>
<line x1="156.40" y1="548.52" x2="195.70" y2="534.40" stroke="#ea1520" stroke-width="1.05" stroke-dasharray="1.4 1.6" opacity="0.9"/>
<circle cx="154.10" cy="485.00" r="2.1" fill="none" stroke="#ea1520" stroke-width="1.9"/>
<circle cx="154.10" cy="513.20" r="2.1" fill="none" stroke="#ea1520" stroke-width="1.9"/>
<circle cx="154.10" cy="520.30" r="2.1" fill="none" stroke="#ea1520" stroke-width="1.9"/>
<circle cx="154.10" cy="534.40" r="2.1" fill="none" stroke="#ea1520" stroke-width="1.9"/>
<circle cx="154.10" cy="541.50" r="2.1" fill="none" stroke="#ea1520" stroke-width="1.9"/>
<circle cx="154.10" cy="548.50" r="2.1" fill="none" stroke="#ea1520" stroke-width="1.9"/>
<circle cx="154.10" cy="555.60" r="2.1" fill="none" stroke="#ea1520" stroke-width="1.9"/>
<circle cx="154.10" cy="562.60" r="2.1" fill="none" stroke="#ea1520" stroke-width="1.9"/>
<circle cx="198.00" cy="470.90" r="2.1" fill="none" stroke="#ea1520" stroke-width="1.9"/>
<circle cx="198.00" cy="485.00" r="2.1" fill="none" stroke="#ea1520" stroke-width="1.9"/>
<circle cx="198.00" cy="492.00" r="2.1" fill="none" stroke="#ea1520" stroke-width="1.9"/>
<circle cx="198.00" cy="499.10" r="2.1" fill="none" stroke="#ea1520" stroke-width="1.9"/>
<circle cx="198.00" cy="506.20" r="2.1" fill="none" stroke="#ea1520" stroke-width="1.9"/>
<circle cx="198.00" cy="527.30" r="2.1" fill="none" stroke="#ea1520" stroke-width="1.9"/>
<circle cx="198.00" cy="534.40" r="2.1" fill="none" stroke="#ea1520" stroke-width="1.9"/>
<circle cx="198.00" cy="541.50" r="2.1" fill="none" stroke="#ea1520" stroke-width="1.9"/>
<circle cx="198.00" cy="548.50" r="2.1" fill="none" stroke="#ea1520" stroke-width="1.9"/>
<circle cx="198.00" cy="555.60" r="2.1" fill="none" stroke="#ea1520" stroke-width="1.9"/>
<line x1="154.10" y1="524.52" x2="154.10" y2="537.22" stroke="#111" stroke-width="1.7" />
<line x1="151.10" y1="524.52" x2="157.10" y2="524.52" stroke="#111" stroke-width="1.7" />
<line x1="151.10" y1="537.22" x2="157.10" y2="537.22" stroke="#111" stroke-width="1.7" />
<line x1="148.10" y1="530.87" x2="160.10" y2="530.87" stroke="#111" stroke-width="1.9" />
<line x1="198.00" y1="518.87" x2="198.00" y2="532.28" stroke="#111" stroke-width="1.7" />
<line x1="195.00" y1="518.87" x2="201.00" y2="518.87" stroke="#111" stroke-width="1.7" />
<line x1="195.00" y1="532.28" x2="201.00" y2="532.28" stroke="#111" stroke-width="1.7" />
<line x1="192.00" y1="525.93" x2="204.00" y2="525.93" stroke="#111" stroke-width="1.9" />
<text x="357.80" y="426.70" font-size="17.3" font-weight="bold" text-anchor="start" fill="#111" stroke="#111" stroke-width="0.3" textLength="36.30" lengthAdjust="spacingAndGlyphs" >DTC</text>
<text x="394.80" y="431.00" font-size="11.5" font-weight="bold" text-anchor="start" fill="#111" stroke="#111" stroke-width="0.45" textLength="22.90" lengthAdjust="spacingAndGlyphs" >Cog</text>
<line x1="284.20" y1="432.40" x2="284.20" y2="570.50" stroke="#1a1a1a" stroke-width="1.7" />
<line x1="283.40" y1="569.70" x2="490.00" y2="569.70" stroke="#1a1a1a" stroke-width="1.7" />
<line x1="279.20" y1="460.74" x2="284.20" y2="460.74" stroke="#1a1a1a" stroke-width="1.5" />
<text x="278.00" y="465.74" font-size="12" font-weight="bold" text-anchor="end" fill="#111" stroke="#111" stroke-width="0.25" textLength="22.82" lengthAdjust="spacing" >200</text>
<line x1="279.20" y1="497.07" x2="284.20" y2="497.07" stroke="#1a1a1a" stroke-width="1.5" />
<text x="278.00" y="502.07" font-size="12" font-weight="bold" text-anchor="end" fill="#111" stroke="#111" stroke-width="0.25" textLength="22.82" lengthAdjust="spacing" >100</text>
<line x1="279.20" y1="533.40" x2="284.20" y2="533.40" stroke="#1a1a1a" stroke-width="1.5" />
<text x="278.00" y="538.40" font-size="12" font-weight="bold" text-anchor="end" fill="#111" stroke="#111" stroke-width="0.25" textLength="6.67" lengthAdjust="spacing" >0</text>
<line x1="279.20" y1="569.73" x2="284.20" y2="569.73" stroke="#1a1a1a" stroke-width="1.5" />
<text x="278.00" y="574.73" font-size="12" font-weight="bold" text-anchor="end" fill="#111" stroke="#111" stroke-width="0.25" textLength="28.22" lengthAdjust="spacing" >-100</text>
<line x1="280.70" y1="442.57" x2="284.20" y2="442.57" stroke="#1a1a1a" stroke-width="1.5" />
<line x1="280.70" y1="478.90" x2="284.20" y2="478.90" stroke="#1a1a1a" stroke-width="1.5" />
<line x1="280.70" y1="515.24" x2="284.20" y2="515.24" stroke="#1a1a1a" stroke-width="1.5" />
<line x1="280.70" y1="551.56" x2="284.20" y2="551.56" stroke="#1a1a1a" stroke-width="1.5" />
<line x1="323.00" y1="569.70" x2="323.00" y2="575.70" stroke="#1a1a1a" stroke-width="1.6" />
<text x="325.60" y="589.60" font-size="12.5" font-weight="bold" text-anchor="middle" fill="#111" stroke="#111" stroke-width="0.3" textLength="22.55" lengthAdjust="spacing" >Pre</text>
<line x1="365.80" y1="569.70" x2="365.80" y2="575.70" stroke="#1a1a1a" stroke-width="1.6" />
<text x="368.40" y="589.60" font-size="12.5" font-weight="bold" text-anchor="middle" fill="#111" stroke="#111" stroke-width="0.3" textLength="30.69" lengthAdjust="spacing" >Post</text>
<line x1="408.60" y1="569.70" x2="408.60" y2="575.70" stroke="#1a1a1a" stroke-width="1.6" />
<text x="411.20" y="589.60" font-size="12.5" font-weight="bold" text-anchor="middle" fill="#111" stroke="#111" stroke-width="0.3" textLength="22.55" lengthAdjust="spacing" >Pre</text>
<line x1="451.60" y1="569.70" x2="451.60" y2="575.70" stroke="#1a1a1a" stroke-width="1.6" />
<text x="454.20" y="589.60" font-size="12.5" font-weight="bold" text-anchor="middle" fill="#111" stroke="#111" stroke-width="0.3" textLength="30.69" lengthAdjust="spacing" >Post</text>
<path d="M323.00,453.70 V451.20 Q323.00,450.20 324.00,450.20 H364.80 Q365.80,450.20 365.80,451.20 V453.70" fill="none" stroke="#222" stroke-width="1.5"/>
<text x="344.40" y="451.80" font-size="15.5" font-weight="bold" text-anchor="middle" fill="#222" stroke="#222" stroke-width="0.3" >*</text>
<line x1="325.30" y1="523.00" x2="363.50" y2="514.20" stroke="#1cb41c" stroke-width="1.05" stroke-dasharray="1.4 1.6" opacity="0.9"/>
<line x1="325.30" y1="524.00" x2="363.50" y2="532.70" stroke="#1cb41c" stroke-width="1.05" stroke-dasharray="1.4 1.6" opacity="0.9"/>
<line x1="325.30" y1="532.70" x2="363.50" y2="521.00" stroke="#1cb41c" stroke-width="1.05" stroke-dasharray="1.4 1.6" opacity="0.9"/>
<line x1="325.30" y1="540.00" x2="363.50" y2="459.90" stroke="#1cb41c" stroke-width="1.05" stroke-dasharray="1.4 1.6" opacity="0.9"/>
<line x1="325.30" y1="540.00" x2="363.50" y2="525.80" stroke="#1cb41c" stroke-width="1.05" stroke-dasharray="1.4 1.6" opacity="0.9"/>
<line x1="325.30" y1="546.30" x2="363.50" y2="536.60" stroke="#1cb41c" stroke-width="1.05" stroke-dasharray="1.4 1.6" opacity="0.9"/>
<line x1="325.30" y1="549.20" x2="363.50" y2="540.40" stroke="#1cb41c" stroke-width="1.05" stroke-dasharray="1.4 1.6" opacity="0.9"/>
<line x1="325.30" y1="552.10" x2="363.50" y2="532.70" stroke="#1cb41c" stroke-width="1.05" stroke-dasharray="1.4 1.6" opacity="0.9"/>
<line x1="325.30" y1="563.70" x2="363.50" y2="521.00" stroke="#1cb41c" stroke-width="1.05" stroke-dasharray="1.4 1.6" opacity="0.9"/>
<line x1="325.30" y1="536.00" x2="363.50" y2="528.00" stroke="#1cb41c" stroke-width="1.05" stroke-dasharray="1.4 1.6" opacity="0.9"/>
<circle cx="323.00" cy="523.00" r="2.1" fill="none" stroke="#1cb41c" stroke-width="1.9"/>
<circle cx="323.00" cy="524.00" r="2.1" fill="none" stroke="#1cb41c" stroke-width="1.9"/>
<circle cx="323.00" cy="532.70" r="2.1" fill="none" stroke="#1cb41c" stroke-width="1.9"/>
<circle cx="323.00" cy="536.00" r="2.1" fill="none" stroke="#1cb41c" stroke-width="1.9"/>
<circle cx="323.00" cy="540.00" r="2.1" fill="none" stroke="#1cb41c" stroke-width="1.9"/>
<circle cx="323.00" cy="546.30" r="2.1" fill="none" stroke="#1cb41c" stroke-width="1.9"/>
<circle cx="323.00" cy="549.20" r="2.1" fill="none" stroke="#1cb41c" stroke-width="1.9"/>
<circle cx="323.00" cy="552.10" r="2.1" fill="none" stroke="#1cb41c" stroke-width="1.9"/>
<circle cx="323.00" cy="563.70" r="2.1" fill="none" stroke="#1cb41c" stroke-width="1.9"/>
<circle cx="365.80" cy="459.90" r="2.1" fill="none" stroke="#1cb41c" stroke-width="1.9"/>
<circle cx="365.80" cy="514.20" r="2.1" fill="none" stroke="#1cb41c" stroke-width="1.9"/>
<circle cx="365.80" cy="521.00" r="2.1" fill="none" stroke="#1cb41c" stroke-width="1.9"/>
<circle cx="365.80" cy="525.80" r="2.1" fill="none" stroke="#1cb41c" stroke-width="1.9"/>
<circle cx="365.80" cy="528.00" r="2.1" fill="none" stroke="#1cb41c" stroke-width="1.9"/>
<circle cx="365.80" cy="532.70" r="2.1" fill="none" stroke="#1cb41c" stroke-width="1.9"/>
<circle cx="365.80" cy="536.60" r="2.1" fill="none" stroke="#1cb41c" stroke-width="1.9"/>
<circle cx="365.80" cy="540.40" r="2.1" fill="none" stroke="#1cb41c" stroke-width="1.9"/>
<line x1="323.00" y1="537.30" x2="323.00" y2="543.00" stroke="#111" stroke-width="1.7" />
<line x1="320.00" y1="537.30" x2="326.00" y2="537.30" stroke="#111" stroke-width="1.7" />
<line x1="320.00" y1="543.00" x2="326.00" y2="543.00" stroke="#111" stroke-width="1.7" />
<line x1="317.00" y1="540.10" x2="329.00" y2="540.10" stroke="#111" stroke-width="1.9" />
<line x1="365.80" y1="520.70" x2="365.80" y2="530.50" stroke="#111" stroke-width="1.7" />
<line x1="362.80" y1="520.70" x2="368.80" y2="520.70" stroke="#111" stroke-width="1.7" />
<line x1="362.80" y1="530.50" x2="368.80" y2="530.50" stroke="#111" stroke-width="1.7" />
<line x1="359.80" y1="525.80" x2="371.80" y2="525.80" stroke="#111" stroke-width="1.9" />
<line x1="410.90" y1="496.80" x2="449.30" y2="496.80" stroke="#ea1520" stroke-width="1.05" stroke-dasharray="1.4 1.6" opacity="0.9"/>
<line x1="410.90" y1="527.50" x2="449.30" y2="507.20" stroke="#ea1520" stroke-width="1.05" stroke-dasharray="1.4 1.6" opacity="0.9"/>
<line x1="410.90" y1="530.00" x2="449.30" y2="517.40" stroke="#ea1520" stroke-width="1.05" stroke-dasharray="1.4 1.6" opacity="0.9"/>
<line x1="410.90" y1="536.30" x2="449.30" y2="519.90" stroke="#ea1520" stroke-width="1.05" stroke-dasharray="1.4 1.6" opacity="0.9"/>
<line x1="410.90" y1="541.50" x2="449.30" y2="522.10" stroke="#ea1520" stroke-width="1.05" stroke-dasharray="1.4 1.6" opacity="0.9"/>
<line x1="410.90" y1="544.00" x2="449.30" y2="530.90" stroke="#ea1520" stroke-width="1.05" stroke-dasharray="1.4 1.6" opacity="0.9"/>
<line x1="410.90" y1="546.40" x2="449.30" y2="539.70" stroke="#ea1520" stroke-width="1.05" stroke-dasharray="1.4 1.6" opacity="0.9"/>
<line x1="410.90" y1="548.80" x2="449.30" y2="542.10" stroke="#ea1520" stroke-width="1.05" stroke-dasharray="1.4 1.6" opacity="0.9"/>
<line x1="410.90" y1="551.30" x2="449.30" y2="544.60" stroke="#ea1520" stroke-width="1.05" stroke-dasharray="1.4 1.6" opacity="0.9"/>
<line x1="410.90" y1="551.30" x2="449.30" y2="548.20" stroke="#ea1520" stroke-width="1.05" stroke-dasharray="1.4 1.6" opacity="0.9"/>
<line x1="410.90" y1="544.00" x2="449.30" y2="551.30" stroke="#ea1520" stroke-width="1.05" stroke-dasharray="1.4 1.6" opacity="0.9"/>
<circle cx="408.60" cy="496.80" r="2.1" fill="none" stroke="#ea1520" stroke-width="1.9"/>
<circle cx="408.60" cy="527.50" r="2.1" fill="none" stroke="#ea1520" stroke-width="1.9"/>
<circle cx="408.60" cy="530.00" r="2.1" fill="none" stroke="#ea1520" stroke-width="1.9"/>
<circle cx="408.60" cy="536.30" r="2.1" fill="none" stroke="#ea1520" stroke-width="1.9"/>
<circle cx="408.60" cy="541.50" r="2.1" fill="none" stroke="#ea1520" stroke-width="1.9"/>
<circle cx="408.60" cy="544.00" r="2.1" fill="none" stroke="#ea1520" stroke-width="1.9"/>
<circle cx="408.60" cy="546.40" r="2.1" fill="none" stroke="#ea1520" stroke-width="1.9"/>
<circle cx="408.60" cy="548.80" r="2.1" fill="none" stroke="#ea1520" stroke-width="1.9"/>
<circle cx="408.60" cy="551.30" r="2.1" fill="none" stroke="#ea1520" stroke-width="1.9"/>
<circle cx="451.60" cy="496.80" r="2.1" fill="none" stroke="#ea1520" stroke-width="1.9"/>
<circle cx="451.60" cy="507.20" r="2.1" fill="none" stroke="#ea1520" stroke-width="1.9"/>
<circle cx="451.60" cy="517.40" r="2.1" fill="none" stroke="#ea1520" stroke-width="1.9"/>
<circle cx="451.60" cy="519.90" r="2.1" fill="none" stroke="#ea1520" stroke-width="1.9"/>
<circle cx="451.60" cy="522.10" r="2.1" fill="none" stroke="#ea1520" stroke-width="1.9"/>
<circle cx="451.60" cy="530.90" r="2.1" fill="none" stroke="#ea1520" stroke-width="1.9"/>
<circle cx="451.60" cy="539.70" r="2.1" fill="none" stroke="#ea1520" stroke-width="1.9"/>
<circle cx="451.60" cy="542.10" r="2.1" fill="none" stroke="#ea1520" stroke-width="1.9"/>
<circle cx="451.60" cy="544.60" r="2.1" fill="none" stroke="#ea1520" stroke-width="1.9"/>
<circle cx="451.60" cy="548.20" r="2.1" fill="none" stroke="#ea1520" stroke-width="1.9"/>
<circle cx="451.60" cy="551.30" r="2.1" fill="none" stroke="#ea1520" stroke-width="1.9"/>
<line x1="408.60" y1="532.90" x2="408.60" y2="539.60" stroke="#111" stroke-width="1.7" />
<line x1="405.60" y1="532.90" x2="411.60" y2="532.90" stroke="#111" stroke-width="1.7" />
<line x1="405.60" y1="539.60" x2="411.60" y2="539.60" stroke="#111" stroke-width="1.7" />
<line x1="402.60" y1="536.30" x2="414.60" y2="536.30" stroke="#111" stroke-width="1.9" />
<line x1="451.60" y1="526.60" x2="451.60" y2="535.10" stroke="#111" stroke-width="1.7" />
<line x1="448.60" y1="526.60" x2="454.60" y2="526.60" stroke="#111" stroke-width="1.7" />
<line x1="448.60" y1="535.10" x2="454.60" y2="535.10" stroke="#111" stroke-width="1.7" />
<line x1="445.60" y1="530.90" x2="457.60" y2="530.90" stroke="#111" stroke-width="1.9" />
<circle cx="588.6" cy="340.10" r="3.1" fill="none" stroke="#4d90e8" stroke-width="2.6"/>
<text x="622.30" y="350.30" font-size="26" font-weight="bold" text-anchor="start" fill="#111" stroke="#111" stroke-width="0.35" textLength="68.00" lengthAdjust="spacing" >IL-ST</text>
<circle cx="588.6" cy="377.75" r="3.1" fill="none" stroke="#1cb41c" stroke-width="2.6"/>
<text x="622.30" y="387.95" font-size="26" font-weight="bold" text-anchor="start" fill="#111" stroke="#111" stroke-width="0.35" textLength="69.70" lengthAdjust="spacing" >IL-DT</text>
<circle cx="588.6" cy="415.40" r="3.1" fill="none" stroke="#f26b1d" stroke-width="2.6"/>
<text x="622.30" y="425.60" font-size="26" font-weight="bold" text-anchor="start" fill="#111" stroke="#111" stroke-width="0.35" textLength="78.00" lengthAdjust="spacing" >EL-ST</text>
<circle cx="588.6" cy="453.05" r="3.1" fill="none" stroke="#ea1520" stroke-width="2.6"/>
<text x="622.30" y="463.25" font-size="26" font-weight="bold" text-anchor="start" fill="#111" stroke="#111" stroke-width="0.35" textLength="79.40" lengthAdjust="spacing" >EL-DT</text>
</svg>
</body></html>
